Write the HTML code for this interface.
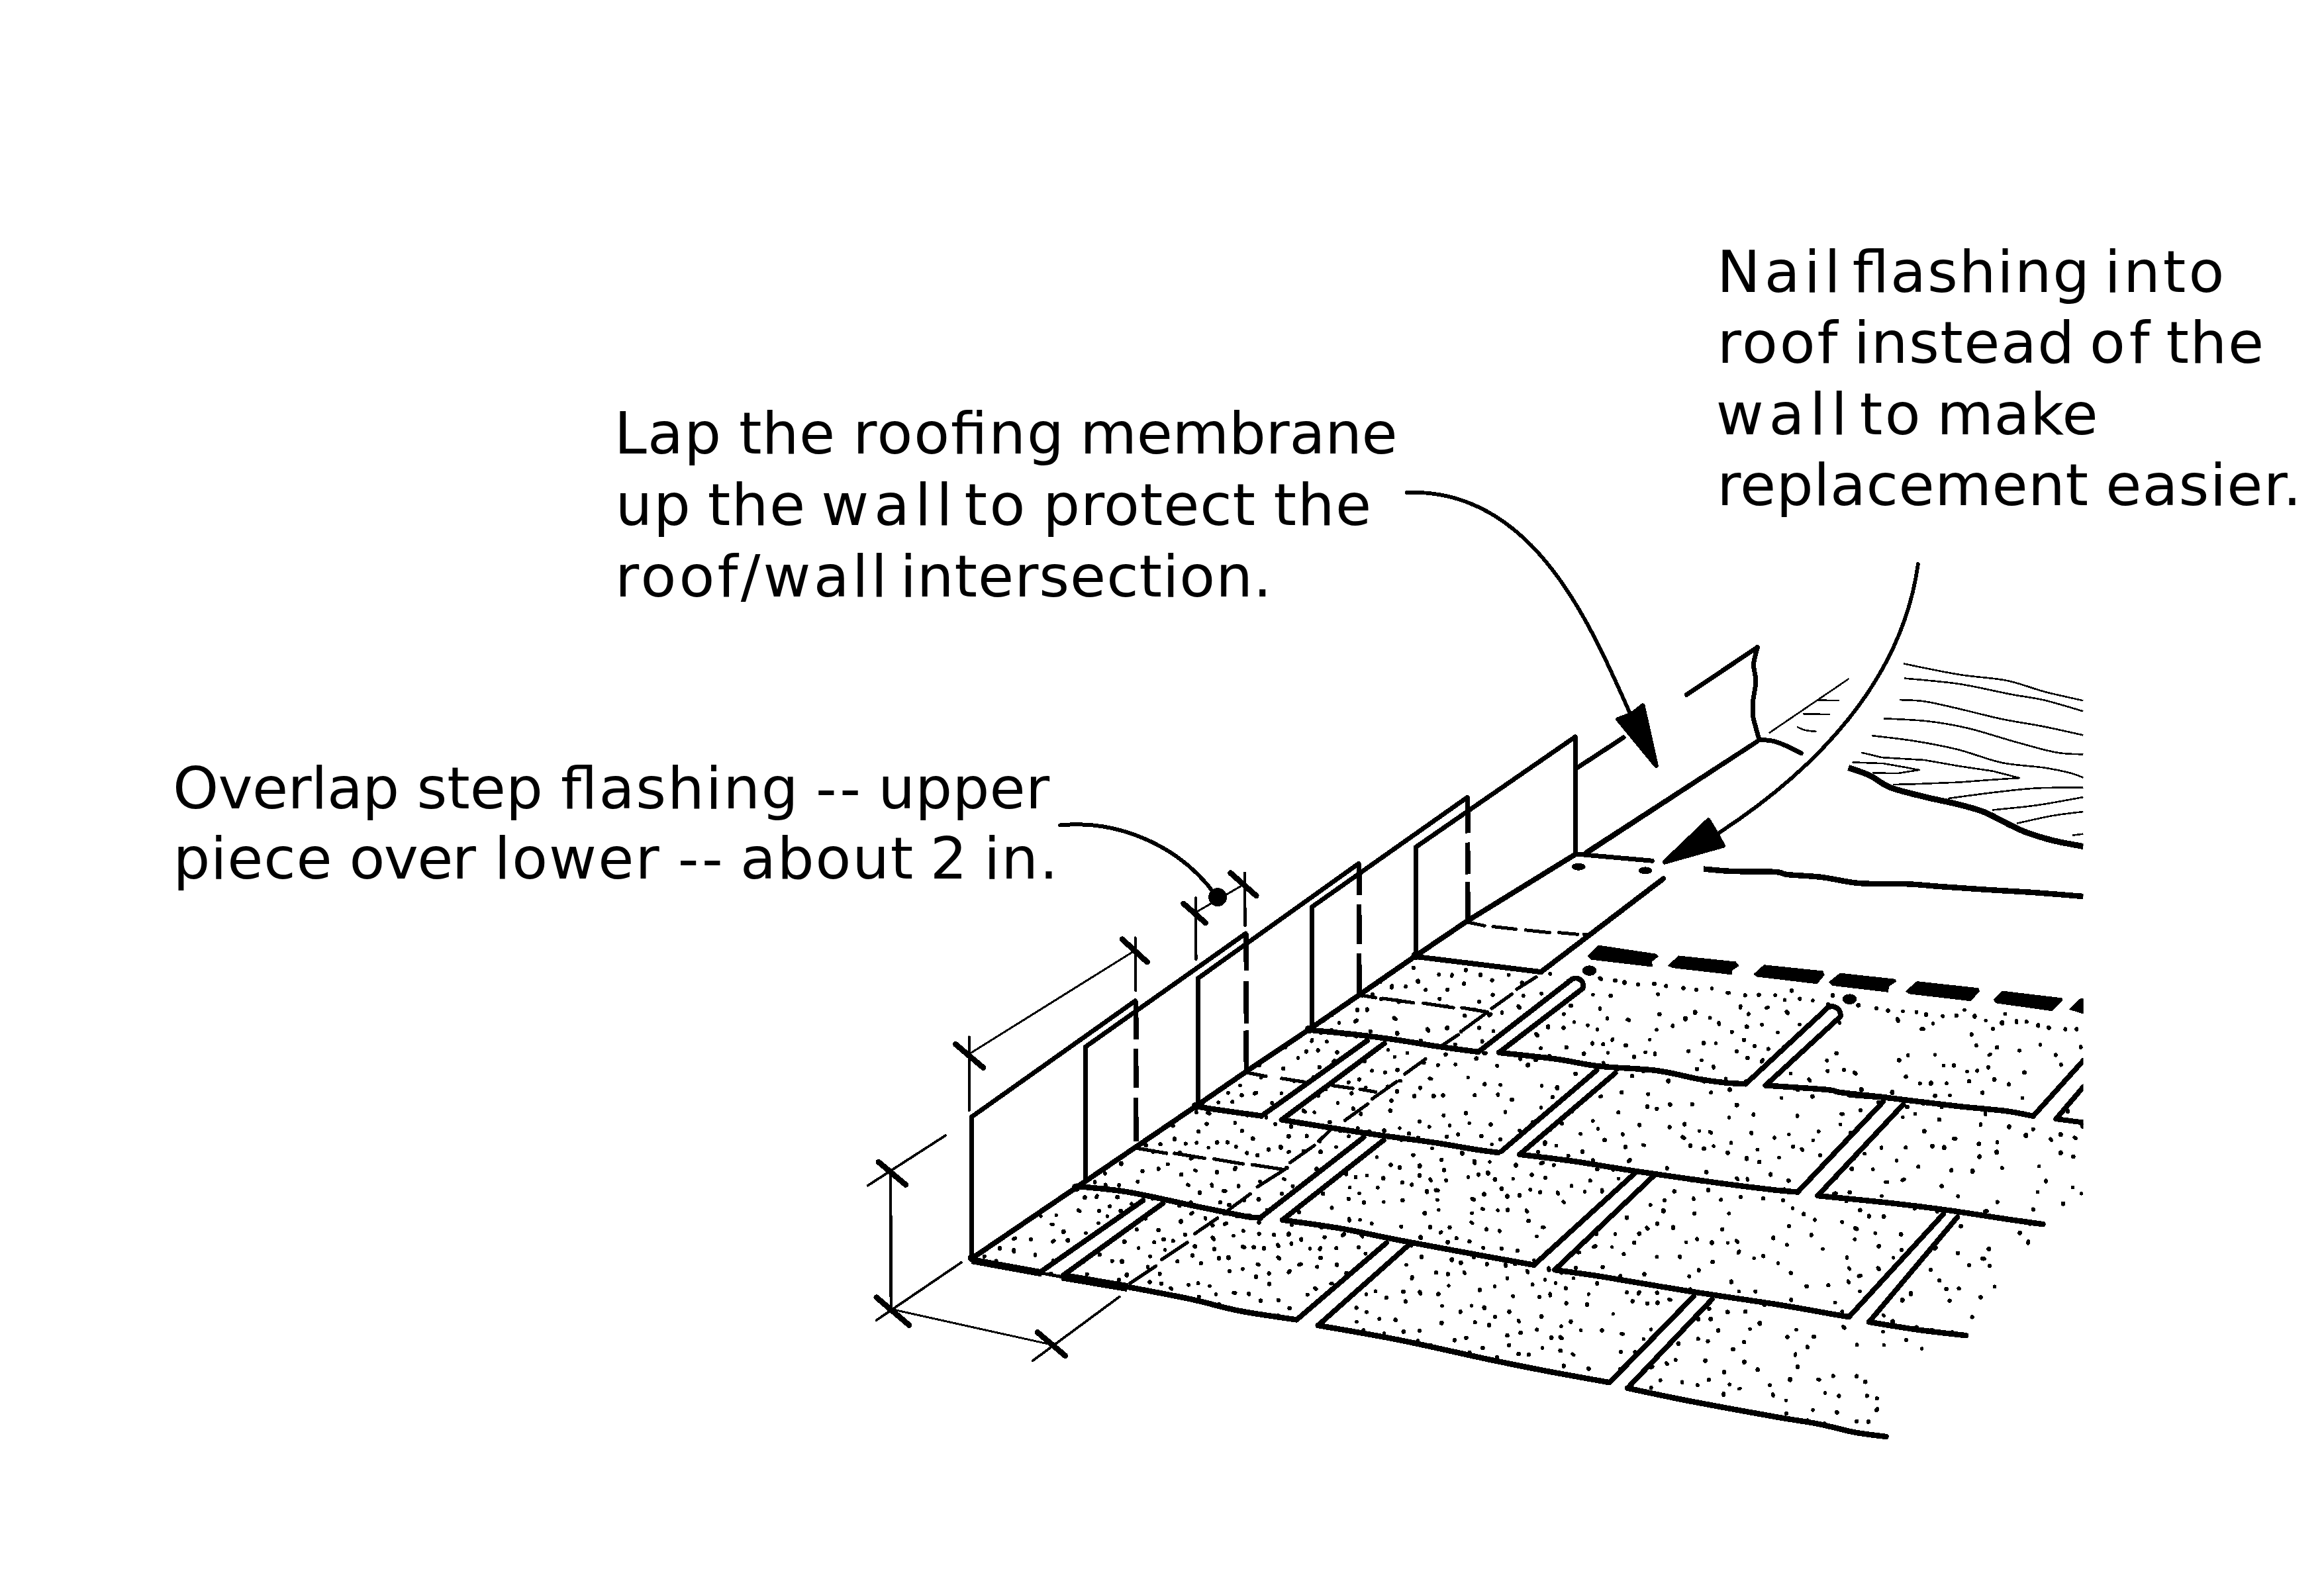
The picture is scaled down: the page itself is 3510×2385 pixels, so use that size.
<!DOCTYPE html>
<html lang="en"><head><meta charset="utf-8"><title>Step flashing detail</title>
<style>
html,body{margin:0;padding:0;background:#fff}
body{width:3510px;height:2385px;overflow:hidden}
svg{display:block}
text{font-family:"DejaVu Sans","Liberation Sans",sans-serif;font-size:88px;fill:#000;white-space:pre}
</style></head><body>
<svg width="3510" height="2385" viewBox="0 0 3510 2385">
<rect width="3510" height="2385" fill="#fff"/>
<defs><clipPath id="cl"><rect x="0" y="0" width="3146.5" height="2385"/></clipPath></defs>
<g clip-path="url(#cl)" shape-rendering="crispEdges">
<path d="M2124.5 743.9 C2312.2 737.2 2398.4 934.1 2461.8 1077.3" fill="none" stroke="#000" stroke-width="5.8" stroke-linecap="round"/>
<polygon points="2443.9,1086.6 2464.6,1078.8 2481.1,1065.9 2501.3,1156.3" fill="#000" stroke="#000" stroke-width="7" stroke-linejoin="round"/>
<path d="M2547.3 1049.4 L2654.5 977.5" fill="none" stroke="#000" stroke-width="7" stroke-linecap="round" stroke-linejoin="round"/>
<path d="M2654.5 977.5 C2653.5 981.8 2649.0 994.8 2648.6 1003.4 C2648.2 1012.0 2652.1 1019.7 2651.9 1029.2 C2651.7 1038.7 2648.2 1051.6 2647.5 1060.2 C2646.8 1068.8 2646.8 1074.4 2647.5 1080.9 C2648.2 1087.4 2650.3 1093.0 2651.9 1099 C2653.5 1105.0 2656.2 1114.1 2657.1 1117.1" fill="none" stroke="#000" stroke-width="7" stroke-linecap="round" stroke-linejoin="round"/>
<path d="M2657.1 1117.1 C2660.8 1117.5 2672.0 1117.9 2679.1 1119.6 C2686.2 1121.3 2692.8 1124.4 2699.7 1127.4 C2706.6 1130.4 2716.9 1136.0 2720.4 1137.7" fill="none" stroke="#000" stroke-width="7" stroke-linecap="round" stroke-linejoin="round"/>
<path d="M2654.5 1119.6 L2400 1286.3" fill="none" stroke="#000" stroke-width="7" stroke-linecap="round" stroke-linejoin="round"/>
<path d="M2382.5 1159.5 L2452 1114" fill="none" stroke="#000" stroke-width="7" stroke-linecap="round" stroke-linejoin="round"/>
<path d="M2672.6 1106.7 L2791.5 1025.8" fill="none" stroke="#000" stroke-width="2.6" stroke-linecap="round" stroke-linejoin="round"/>
<path d="M2746.3 1057.6 L2777.3 1058.1" fill="none" stroke="#000" stroke-width="2.6" stroke-linecap="round" stroke-linejoin="round"/>
<path d="M2724.3 1078.3 L2763 1079.1" fill="none" stroke="#000" stroke-width="2.6" stroke-linecap="round" stroke-linejoin="round"/>
<path d="M2715.2 1098.4 C2716.9 1099.1 2721.1 1101.7 2725.6 1102.8 C2730.1 1103.9 2739.6 1104.6 2742.4 1104.9" fill="none" stroke="#000" stroke-width="2.6" stroke-linecap="round" stroke-linejoin="round"/>
<path d="M2896.9 851.9 C2872.5 1030.1 2740.6 1163.5 2596.4 1257.9" fill="none" stroke="#000" stroke-width="5.8" stroke-linecap="round"/>
<polygon points="2580.1,1239 2592.5,1259.2 2602.3,1277.3 2514.2,1302.1" fill="#000" stroke="#000" stroke-width="7" stroke-linejoin="round"/>
<path d="M2875.2 1002.5 C2889.1 1005.2 2932.5 1014.6 2958.4 1018.8 C2984.3 1023.0 3009.2 1023.6 3030.7 1027.9 C3052.2 1032.2 3068.3 1039.6 3087.6 1044.7 C3106.9 1049.8 3136.7 1056.0 3146.5 1058.3" fill="none" stroke="#000" stroke-width="2.6" stroke-linecap="butt" stroke-linejoin="round"/>
<path d="M2875.7 1024.5 C2889.5 1025.9 2931.7 1029.0 2958.4 1033 C2985.1 1037.0 3014.4 1044.4 3035.9 1048.5 C3057.4 1052.6 3069.2 1053.3 3087.6 1057.6 C3106.0 1061.9 3136.7 1071.6 3146.5 1074.4" fill="none" stroke="#000" stroke-width="2.6" stroke-linecap="butt" stroke-linejoin="round"/>
<path d="M2869.3 1057.1 C2875.5 1057.5 2891.8 1057.2 2906.7 1059.4 C2921.5 1061.6 2939.0 1066.1 2958.4 1070.5 C2977.8 1074.9 3001.5 1081.5 3023 1086 C3044.5 1090.5 3067.0 1093.5 3087.6 1097.6 C3108.2 1101.7 3136.7 1108.3 3146.5 1110.5" fill="none" stroke="#000" stroke-width="2.6" stroke-linecap="butt" stroke-linejoin="round"/>
<path d="M2844.7 1085.2 C2855.9 1085.9 2890.8 1087.0 2911.9 1089.4 C2933.0 1091.8 2950.6 1094.9 2971.3 1099.7 C2992.0 1104.5 3016.5 1112.8 3035.9 1118.3 C3055.3 1123.8 3074.7 1129.3 3087.6 1132.5 C3100.5 1135.7 3103.6 1136.5 3113.4 1137.7 C3123.2 1138.9 3141.0 1139.2 3146.5 1139.5" fill="none" stroke="#000" stroke-width="2.6" stroke-linecap="butt" stroke-linejoin="round"/>
<path d="M2827.1 1111.1 C2838.2 1112.5 2871.9 1116.0 2893.8 1119.6 C2915.7 1123.2 2936.9 1127.1 2958.4 1132.5 C2979.9 1137.9 3001.5 1147.4 3023 1151.9 C3044.5 1156.4 3070.4 1157.0 3087.6 1159.6 C3104.8 1162.2 3116.6 1164.9 3126.4 1167.4 C3136.2 1169.9 3143.2 1173.4 3146.5 1174.6" fill="none" stroke="#000" stroke-width="2.6" stroke-linecap="butt" stroke-linejoin="round"/>
<path d="M2941.6 1206.1 C2953.0 1204.6 2987.9 1199.7 3010.1 1197.1 C3032.3 1194.5 3052.0 1191.9 3074.7 1190.6 C3097.4 1189.3 3134.5 1189.6 3146.5 1189.4" fill="none" stroke="#000" stroke-width="2.6" stroke-linecap="butt" stroke-linejoin="round"/>
<path d="M3008.8 1223.5 C3019.8 1222.3 3051.8 1219.7 3074.7 1216.5 C3097.6 1213.3 3134.5 1206.2 3146.5 1204.1" fill="none" stroke="#000" stroke-width="2.6" stroke-linecap="butt" stroke-linejoin="round"/>
<path d="M3046.3 1243.6 C3055.3 1241.7 3083.8 1234.9 3100.5 1232 C3117.2 1229.1 3138.8 1227.0 3146.5 1226" fill="none" stroke="#000" stroke-width="2.6" stroke-linecap="butt" stroke-linejoin="round"/>
<path d="M3130.2 1261.7 L3146.5 1259.6" fill="none" stroke="#000" stroke-width="2.6" stroke-linecap="butt" stroke-linejoin="round"/>
<path d="M2812.4 1136.9 L2842.1 1144.1 L2906.7 1148 L2958.4 1157.1 L3010.1 1164.8 L3050.1 1175.1 L3010.1 1177.7 L2958.4 1181.6 L2893.8 1184.2 L2860.2 1185" fill="none" stroke="#000" stroke-width="2.6" stroke-linecap="round" stroke-linejoin="round"/>
<path d="M2798.7 1151.4 L2844.7 1153.2 L2880.9 1159.6 L2898.4 1163 L2865.4 1168.2 L2829.2 1167.4" fill="none" stroke="#000" stroke-width="2.6" stroke-linecap="round" stroke-linejoin="round"/>
<path d="M2791.7 1159.6 C2797.1 1161.5 2813.4 1166.3 2824 1171.3 C2834.6 1176.3 2841.2 1184.0 2855 1189.4 C2868.8 1194.8 2889.5 1199.3 2906.7 1203.6 C2923.9 1207.9 2943.3 1211.3 2958.4 1215.2 C2973.5 1219.1 2984.3 1221.6 2997.2 1226.8 C3010.1 1232.0 3025.1 1241.0 3035.9 1246.2 C3046.7 1251.4 3051.0 1253.9 3061.8 1257.8 C3072.6 1261.7 3086.4 1266.0 3100.5 1269.5 C3114.6 1273.0 3138.8 1277.0 3146.5 1278.5" fill="none" stroke="#000" stroke-width="9" stroke-linecap="butt" stroke-linejoin="round"/>
<g><path fill="#000" d="M2436.2 1480.9a3.4 3.4 0 1 0 6.8 0a3.4 3.4 0 1 0 -6.8 0zM2450.1 1484.0a3.5 3.5 0 1 0 6.9 0a3.5 3.5 0 1 0 -6.9 0zM2470.7 1487.0a3.3 3.3 0 1 0 6.6 0a3.3 3.3 0 1 0 -6.6 0zM2495.0 1486.1a3.4 3.4 0 1 0 6.8 0a3.4 3.4 0 1 0 -6.8 0zM2513.1 1489.4a3.2 3.2 0 1 0 6.4 0a3.2 3.2 0 1 0 -6.4 0zM2539.1 1492.6a3.4 3.4 0 1 0 6.8 0a3.4 3.4 0 1 0 -6.8 0zM2559.0 1495.1a3.1 3.1 0 1 0 6.2 0a3.1 3.1 0 1 0 -6.2 0zM2582.5 1493.0a2.8 2.8 0 1 0 5.6 0a2.8 2.8 0 1 0 -5.6 0zM2632.5 1503.4a3.2 3.2 0 1 0 6.4 0a3.2 3.2 0 1 0 -6.4 0zM2653.1 1502.7a3.3 3.3 0 1 0 6.6 0a3.3 3.3 0 1 0 -6.6 0zM2678.4 1503.3a2.9 2.9 0 1 0 5.8 0a2.9 2.9 0 1 0 -5.8 0zM2692.5 1510.4a2.9 2.9 0 1 0 5.9 0a2.9 2.9 0 1 0 -5.9 0zM2715.3 1508.6a3.1 3.1 0 1 0 6.2 0a3.1 3.1 0 1 0 -6.2 0zM2735.2 1511.1a2.8 2.8 0 1 0 5.6 0a2.8 2.8 0 1 0 -5.6 0zM2758.0 1516.7a2.9 2.9 0 1 0 5.8 0a2.9 2.9 0 1 0 -5.8 0zM2831.0 1522.9a3.1 3.1 0 1 0 6.2 0a3.1 3.1 0 1 0 -6.2 0zM2848.3 1526.6a3.3 3.3 0 1 0 6.6 0a3.3 3.3 0 1 0 -6.6 0zM2871.3 1527.7a2.8 2.8 0 1 0 5.7 0a2.8 2.8 0 1 0 -5.7 0zM2891.6 1528.8a2.8 2.8 0 1 0 5.5 0a2.8 2.8 0 1 0 -5.5 0zM2905.6 1532.5a3.4 3.4 0 1 0 6.8 0a3.4 3.4 0 1 0 -6.8 0zM2931.2 1534.9a2.9 2.9 0 1 0 5.8 0a2.9 2.9 0 1 0 -5.8 0zM2951.5 1534.0a3.3 3.3 0 1 0 6.6 0a3.3 3.3 0 1 0 -6.6 0zM2979.0 1535.0a3.3 3.3 0 1 0 6.5 0a3.3 3.3 0 1 0 -6.5 0zM2996.4 1541.3a2.7 2.7 0 1 0 5.5 0a2.7 2.7 0 1 0 -5.5 0zM3020.4 1545.0a3.5 3.5 0 1 0 6.9 0a3.5 3.5 0 1 0 -6.9 0zM3057.7 1543.4a3.1 3.1 0 1 0 6.2 0a3.1 3.1 0 1 0 -6.2 0zM3075.1 1548.9a3.2 3.2 0 1 0 6.3 0a3.2 3.2 0 1 0 -6.3 0zM3091.0 1552.4a3.3 3.3 0 1 0 6.7 0a3.3 3.3 0 1 0 -6.7 0zM3116.5 1554.6a2.8 2.8 0 1 0 5.5 0a2.8 2.8 0 1 0 -5.5 0zM3133.3 1554.5a3.1 3.1 0 1 0 6.1 0a3.1 3.1 0 1 0 -6.1 0zM1483.5 1897.7a3.2 3.2 0 1 0 6.4 0a3.2 3.2 0 1 0 -6.4 0zM1506.9 1885.7a3.2 3.2 0 1 0 6.3 0a3.2 3.2 0 1 0 -6.3 0zM1592.5 1835.4a2.7 2.7 0 1 0 5.5 0a2.7 2.7 0 1 0 -5.5 0zM1550.4 1843.0a3.0 3.0 0 1 0 5.9 0a3.0 3.0 0 1 0 -5.9 0zM1609.1 1873.5a3.5 3.5 0 1 0 7.0 0a3.5 3.5 0 1 0 -7.0 0zM1622.8 1928.3a3.1 3.1 0 1 0 6.3 0a3.1 3.1 0 1 0 -6.3 0zM1587.6 1904.3a3.0 3.0 0 1 0 5.9 0a3.0 3.0 0 1 0 -5.9 0zM1603.1 1860.4a3.3 3.3 0 1 0 6.5 0a3.3 3.3 0 1 0 -6.5 0zM1585.0 1923.3a2.8 2.8 0 1 0 5.6 0a2.8 2.8 0 1 0 -5.6 0zM1560.6 1895.5a2.8 2.8 0 1 0 5.5 0a2.8 2.8 0 1 0 -5.5 0zM1569.4 1837.1a2.7 2.7 0 1 0 5.4 0a2.7 2.7 0 1 0 -5.4 0zM1554.2 1872.0a3.0 3.0 0 1 0 6.0 0a3.0 3.0 0 1 0 -6.0 0zM1684.3 1808.1a3.5 3.5 0 1 0 7.0 0a3.5 3.5 0 1 0 -7.0 0zM1656.0 1847.5a3.0 3.0 0 1 0 6.0 0a3.0 3.0 0 1 0 -6.0 0zM1669.6 1837.1a2.7 2.7 0 1 0 5.4 0a2.7 2.7 0 1 0 -5.4 0zM1657.6 1895.1a3.2 3.2 0 1 0 6.4 0a3.2 3.2 0 1 0 -6.4 0zM1694.8 1875.6a3.5 3.5 0 1 0 7.0 0a3.5 3.5 0 1 0 -7.0 0zM1689.3 1829.0a3.3 3.3 0 1 0 6.6 0a3.3 3.3 0 1 0 -6.6 0zM1657.2 1828.9a2.9 2.9 0 1 0 5.7 0a2.9 2.9 0 1 0 -5.7 0zM1637.3 1862.4a2.7 2.7 0 1 0 5.4 0a2.7 2.7 0 1 0 -5.4 0zM1638.6 1924.7a3.1 3.1 0 1 0 6.2 0a3.1 3.1 0 1 0 -6.2 0zM1687.3 1790.3a2.9 2.9 0 1 0 5.7 0a2.9 2.9 0 1 0 -5.7 0zM1690.0 1757.6a3.4 3.4 0 1 0 6.7 0a3.4 3.4 0 1 0 -6.7 0zM1698.7 1943.0a3.2 3.2 0 1 0 6.5 0a3.2 3.2 0 1 0 -6.5 0zM1691.2 1905.4a3.4 3.4 0 1 0 6.7 0a3.4 3.4 0 1 0 -6.7 0zM1686.6 1933.1a3.2 3.2 0 1 0 6.4 0a3.2 3.2 0 1 0 -6.4 0zM1651.0 1785.5a2.8 2.8 0 1 0 5.5 0a2.8 2.8 0 1 0 -5.5 0zM1676.5 1904.7a3.1 3.1 0 1 0 6.3 0a3.1 3.1 0 1 0 -6.3 0zM1635.0 1808.7a3.4 3.4 0 1 0 6.9 0a3.4 3.4 0 1 0 -6.9 0zM1673.0 1822.3a3.1 3.1 0 1 0 6.2 0a3.1 3.1 0 1 0 -6.2 0zM1666.2 1772.5a2.8 2.8 0 1 0 5.5 0a2.8 2.8 0 1 0 -5.5 0zM1698.5 1925.8a3.3 3.3 0 1 0 6.5 0a3.3 3.3 0 1 0 -6.5 0zM1768.5 1874.3a3.1 3.1 0 1 0 6.2 0a3.1 3.1 0 1 0 -6.2 0zM1730.7 1913.8a2.8 2.8 0 1 0 5.5 0a2.8 2.8 0 1 0 -5.5 0zM1778.7 1959.3a2.8 2.8 0 1 0 5.6 0a2.8 2.8 0 1 0 -5.6 0zM1722.4 1769.0a3.1 3.1 0 1 0 6.3 0a3.1 3.1 0 1 0 -6.3 0zM1734.0 1897.6a3.0 3.0 0 1 0 6.1 0a3.0 3.0 0 1 0 -6.1 0zM1729.6 1950.0a3.1 3.1 0 1 0 6.2 0a3.1 3.1 0 1 0 -6.2 0zM1760.8 1758.5a3.0 3.0 0 1 0 6.0 0a3.0 3.0 0 1 0 -6.0 0zM1740.2 1876.4a3.0 3.0 0 1 0 6.1 0a3.0 3.0 0 1 0 -6.1 0zM1706.3 1818.5a2.8 2.8 0 1 0 5.5 0a2.8 2.8 0 1 0 -5.5 0zM1714.1 1857.2a2.8 2.8 0 1 0 5.5 0a2.8 2.8 0 1 0 -5.5 0zM1715.3 1784.9a3.1 3.1 0 1 0 6.2 0a3.1 3.1 0 1 0 -6.2 0zM1757.0 1887.9a2.7 2.7 0 1 0 5.5 0a2.7 2.7 0 1 0 -5.5 0zM1733.3 1936.4a3.3 3.3 0 1 0 6.6 0a3.3 3.3 0 1 0 -6.6 0zM1749.4 1728.3a3.2 3.2 0 1 0 6.4 0a3.2 3.2 0 1 0 -6.4 0zM1770.6 1720.4a3.4 3.4 0 1 0 6.7 0a3.4 3.4 0 1 0 -6.7 0zM1754.2 1872.0a3.4 3.4 0 1 0 6.9 0a3.4 3.4 0 1 0 -6.9 0zM1775.1 1905.3a3.1 3.1 0 1 0 6.3 0a3.1 3.1 0 1 0 -6.3 0zM1780.1 1844.9a3.5 3.5 0 1 0 6.9 0a3.5 3.5 0 1 0 -6.9 0zM1714.5 1945.9a3.1 3.1 0 1 0 6.3 0a3.1 3.1 0 1 0 -6.3 0zM1738.0 1739.2a3.2 3.2 0 1 0 6.3 0a3.2 3.2 0 1 0 -6.3 0zM1748.6 1924.1a3.0 3.0 0 1 0 5.9 0a3.0 3.0 0 1 0 -5.9 0zM1737.6 1810.6a3.0 3.0 0 1 0 6.0 0a3.0 3.0 0 1 0 -6.0 0zM1778.1 1820.9a3.3 3.3 0 1 0 6.7 0a3.3 3.3 0 1 0 -6.7 0zM1746.4 1858.1a3.4 3.4 0 1 0 6.8 0a3.4 3.4 0 1 0 -6.8 0zM1746.9 1765.5a2.9 2.9 0 1 0 5.7 0a2.9 2.9 0 1 0 -5.7 0zM1778.5 1741.9a3.4 3.4 0 1 0 6.7 0a3.4 3.4 0 1 0 -6.7 0zM1716.9 1885.1a2.7 2.7 0 1 0 5.5 0a2.7 2.7 0 1 0 -5.5 0zM1750.8 1938.7a3.2 3.2 0 1 0 6.5 0a3.2 3.2 0 1 0 -6.5 0zM1768.3 1700.4a3.2 3.2 0 1 0 6.4 0a3.2 3.2 0 1 0 -6.4 0zM1727.5 1729.7a3.2 3.2 0 1 0 6.3 0a3.2 3.2 0 1 0 -6.3 0zM1780.7 1774.1a3.4 3.4 0 1 0 6.8 0a3.4 3.4 0 1 0 -6.8 0zM1806.5 1938.3a3.0 3.0 0 1 0 6.1 0a3.0 3.0 0 1 0 -6.1 0zM1837.8 1900.7a3.3 3.3 0 1 0 6.5 0a3.3 3.3 0 1 0 -6.5 0zM1850.7 1725.5a3.2 3.2 0 1 0 6.4 0a3.2 3.2 0 1 0 -6.4 0zM1808.7 1801.6a3.4 3.4 0 1 0 6.8 0a3.4 3.4 0 1 0 -6.8 0zM1828.2 1850.9a3.2 3.2 0 1 0 6.4 0a3.2 3.2 0 1 0 -6.4 0zM1822.5 1733.5a2.8 2.8 0 1 0 5.6 0a2.8 2.8 0 1 0 -5.6 0zM1819.3 1697.7a3.2 3.2 0 1 0 6.4 0a3.2 3.2 0 1 0 -6.4 0zM1834.6 1770.4a3.4 3.4 0 1 0 6.9 0a3.4 3.4 0 1 0 -6.9 0zM1806.8 1709.2a3.3 3.3 0 1 0 6.6 0a3.3 3.3 0 1 0 -6.6 0zM1837.4 1665.3a2.9 2.9 0 1 0 5.8 0a2.9 2.9 0 1 0 -5.8 0zM1807.6 1958.7a3.1 3.1 0 1 0 6.2 0a3.1 3.1 0 1 0 -6.2 0zM1801.3 1882.6a3.4 3.4 0 1 0 6.8 0a3.4 3.4 0 1 0 -6.8 0zM1792.3 1940.8a2.9 2.9 0 1 0 5.8 0a2.9 2.9 0 1 0 -5.8 0zM1853.2 1820.1a3.3 3.3 0 1 0 6.7 0a3.3 3.3 0 1 0 -6.7 0zM1864.0 1732.1a2.8 2.8 0 1 0 5.5 0a2.8 2.8 0 1 0 -5.5 0zM1797.7 1896.3a3.3 3.3 0 1 0 6.6 0a3.3 3.3 0 1 0 -6.6 0zM1852.1 1650.9a2.9 2.9 0 1 0 5.8 0a2.9 2.9 0 1 0 -5.8 0zM1862.6 1696.0a2.8 2.8 0 1 0 5.5 0a2.8 2.8 0 1 0 -5.5 0zM1830.6 1886.7a3.4 3.4 0 1 0 6.8 0a3.4 3.4 0 1 0 -6.8 0zM1795.6 1816.4a3.1 3.1 0 1 0 6.3 0a3.1 3.1 0 1 0 -6.3 0zM1824.1 1942.4a2.8 2.8 0 1 0 5.6 0a2.8 2.8 0 1 0 -5.6 0zM1833.7 1955.0a2.7 2.7 0 1 0 5.5 0a2.7 2.7 0 1 0 -5.5 0zM1846.2 1833.2a3.1 3.1 0 1 0 6.2 0a3.1 3.1 0 1 0 -6.2 0zM1837.9 1969.7a3.1 3.1 0 1 0 6.3 0a3.1 3.1 0 1 0 -6.3 0zM1786.6 1864.8a3.2 3.2 0 1 0 6.4 0a3.2 3.2 0 1 0 -6.4 0zM1839.7 1816.3a3.2 3.2 0 1 0 6.4 0a3.2 3.2 0 1 0 -6.4 0zM1853.9 1920.1a3.1 3.1 0 1 0 6.2 0a3.1 3.1 0 1 0 -6.2 0zM1860.3 1866.5a2.9 2.9 0 1 0 5.8 0a2.9 2.9 0 1 0 -5.8 0zM1852.1 1899.6a3.4 3.4 0 1 0 6.7 0a3.4 3.4 0 1 0 -6.7 0zM1811.9 1666.8a3.5 3.5 0 1 0 6.9 0a3.5 3.5 0 1 0 -6.9 0zM1858.1 1664.3a3.2 3.2 0 1 0 6.4 0a3.2 3.2 0 1 0 -6.4 0zM1804.3 1726.1a3.0 3.0 0 1 0 6.0 0a3.0 3.0 0 1 0 -6.0 0zM1810.6 1908.1a3.3 3.3 0 1 0 6.6 0a3.3 3.3 0 1 0 -6.6 0zM1804.1 1680.2a2.8 2.8 0 1 0 5.5 0a2.8 2.8 0 1 0 -5.5 0zM1834.7 1725.7a3.4 3.4 0 1 0 6.9 0a3.4 3.4 0 1 0 -6.9 0zM1787.6 1727.5a3.1 3.1 0 1 0 6.2 0a3.1 3.1 0 1 0 -6.2 0zM1910.6 1827.6a2.7 2.7 0 1 0 5.4 0a2.7 2.7 0 1 0 -5.4 0zM1888.7 1719.9a3.5 3.5 0 1 0 7.0 0a3.5 3.5 0 1 0 -7.0 0zM1909.8 1687.5a2.8 2.8 0 1 0 5.5 0a2.8 2.8 0 1 0 -5.5 0zM1875.5 1812.8a3.4 3.4 0 1 0 6.8 0a3.4 3.4 0 1 0 -6.8 0zM1893.8 1928.5a3.2 3.2 0 1 0 6.3 0a3.2 3.2 0 1 0 -6.3 0zM1923.2 1697.9a3.0 3.0 0 1 0 6.1 0a3.0 3.0 0 1 0 -6.1 0zM1874.0 1916.7a2.9 2.9 0 1 0 5.9 0a2.9 2.9 0 1 0 -5.9 0zM1927.3 1987.1a3.1 3.1 0 1 0 6.3 0a3.1 3.1 0 1 0 -6.3 0zM1942.9 1716.4a3.5 3.5 0 1 0 7.0 0a3.5 3.5 0 1 0 -7.0 0zM1921.1 1865.2a3.1 3.1 0 1 0 6.3 0a3.1 3.1 0 1 0 -6.3 0zM1864.7 1836.9a3.3 3.3 0 1 0 6.6 0a3.3 3.3 0 1 0 -6.6 0zM1918.3 1666.0a3.0 3.0 0 1 0 6.1 0a3.0 3.0 0 1 0 -6.1 0zM1913.6 1939.3a3.3 3.3 0 1 0 6.6 0a3.3 3.3 0 1 0 -6.6 0zM1932.8 1803.1a3.0 3.0 0 1 0 6.1 0a3.0 3.0 0 1 0 -6.1 0zM1944.4 1976.0a3.2 3.2 0 1 0 6.4 0a3.2 3.2 0 1 0 -6.4 0zM1927.6 1963.9a3.2 3.2 0 1 0 6.4 0a3.2 3.2 0 1 0 -6.4 0zM1905.6 1885.4a3.4 3.4 0 1 0 6.8 0a3.4 3.4 0 1 0 -6.8 0zM1895.8 1745.0a3.3 3.3 0 1 0 6.7 0a3.3 3.3 0 1 0 -6.7 0zM1898.2 1846.4a3.3 3.3 0 1 0 6.6 0a3.3 3.3 0 1 0 -6.6 0zM1900.5 1964.8a3.4 3.4 0 1 0 6.8 0a3.4 3.4 0 1 0 -6.8 0zM1883.5 1835.7a2.9 2.9 0 1 0 5.9 0a2.9 2.9 0 1 0 -5.9 0zM1872.6 1708.2a3.3 3.3 0 1 0 6.6 0a3.3 3.3 0 1 0 -6.6 0zM1872.1 1654.3a3.3 3.3 0 1 0 6.6 0a3.3 3.3 0 1 0 -6.6 0zM1874.8 1859.2a3.0 3.0 0 1 0 6.0 0a3.0 3.0 0 1 0 -6.0 0zM1900.2 1784.4a2.9 2.9 0 1 0 5.8 0a2.9 2.9 0 1 0 -5.8 0zM1898.3 1608.7a3.3 3.3 0 1 0 6.7 0a3.3 3.3 0 1 0 -6.7 0zM1912.7 1736.3a3.4 3.4 0 1 0 6.8 0a3.4 3.4 0 1 0 -6.8 0zM1868.0 1791.5a2.8 2.8 0 1 0 5.5 0a2.8 2.8 0 1 0 -5.5 0zM1897.5 1811.5a3.5 3.5 0 1 0 7.0 0a3.5 3.5 0 1 0 -7.0 0zM1938.2 1581.8a3.0 3.0 0 1 0 6.0 0a3.0 3.0 0 1 0 -6.0 0zM1913.4 1923.5a3.3 3.3 0 1 0 6.6 0a3.3 3.3 0 1 0 -6.6 0zM1939.9 1763.9a3.4 3.4 0 1 0 6.8 0a3.4 3.4 0 1 0 -6.8 0zM1880.3 1741.6a2.9 2.9 0 1 0 5.7 0a2.9 2.9 0 1 0 -5.7 0zM1883.2 1954.3a3.1 3.1 0 1 0 6.1 0a3.1 3.1 0 1 0 -6.1 0zM1870.1 1639.3a2.8 2.8 0 1 0 5.6 0a2.8 2.8 0 1 0 -5.6 0zM1930.8 1732.7a3.5 3.5 0 1 0 6.9 0a3.5 3.5 0 1 0 -6.9 0zM1942.9 1864.1a3.5 3.5 0 1 0 6.9 0a3.5 3.5 0 1 0 -6.9 0zM1901.6 1627.6a3.0 3.0 0 1 0 6.0 0a3.0 3.0 0 1 0 -6.0 0zM1890.2 1883.8a3.4 3.4 0 1 0 6.8 0a3.4 3.4 0 1 0 -6.8 0zM1898.4 1863.6a3.1 3.1 0 1 0 6.3 0a3.1 3.1 0 1 0 -6.3 0zM1934.9 1614.0a3.3 3.3 0 1 0 6.6 0a3.3 3.3 0 1 0 -6.6 0zM1932.5 1651.3a2.9 2.9 0 1 0 5.8 0a2.9 2.9 0 1 0 -5.8 0zM1975.7 1885.9a2.9 2.9 0 1 0 5.8 0a2.9 2.9 0 1 0 -5.8 0zM2015.2 1885.4a3.1 3.1 0 1 0 6.2 0a3.1 3.1 0 1 0 -6.2 0zM2004.9 1695.1a3.3 3.3 0 1 0 6.7 0a3.3 3.3 0 1 0 -6.7 0zM1995.6 1541.5a3.2 3.2 0 1 0 6.5 0a3.2 3.2 0 1 0 -6.5 0zM2015.1 1732.7a2.8 2.8 0 1 0 5.6 0a2.8 2.8 0 1 0 -5.6 0zM1971.7 1955.6a3.0 3.0 0 1 0 6.0 0a3.0 3.0 0 1 0 -6.0 0zM2017.5 1666.0a2.8 2.8 0 1 0 5.6 0a2.8 2.8 0 1 0 -5.6 0zM1990.7 1700.4a2.8 2.8 0 1 0 5.5 0a2.8 2.8 0 1 0 -5.5 0zM1947.5 1878.5a3.0 3.0 0 1 0 5.9 0a3.0 3.0 0 1 0 -5.9 0zM1992.0 1560.2a3.1 3.1 0 1 0 6.2 0a3.1 3.1 0 1 0 -6.2 0zM2007.7 1556.6a3.3 3.3 0 1 0 6.5 0a3.3 3.3 0 1 0 -6.5 0zM1988.3 1654.7a3.1 3.1 0 1 0 6.1 0a3.1 3.1 0 1 0 -6.1 0zM1986.2 1913.5a3.0 3.0 0 1 0 6.1 0a3.0 3.0 0 1 0 -6.1 0zM2000.9 1573.4a3.0 3.0 0 1 0 6.0 0a3.0 3.0 0 1 0 -6.0 0zM1991.0 1739.7a3.5 3.5 0 1 0 7.0 0a3.5 3.5 0 1 0 -7.0 0zM2008.4 1824.4a3.1 3.1 0 1 0 6.2 0a3.1 3.1 0 1 0 -6.2 0zM1958.7 1830.8a3.2 3.2 0 1 0 6.3 0a3.2 3.2 0 1 0 -6.3 0zM1946.6 1701.5a3.4 3.4 0 1 0 6.8 0a3.4 3.4 0 1 0 -6.8 0zM1985.2 1766.0a3.3 3.3 0 1 0 6.5 0a3.3 3.3 0 1 0 -6.5 0zM1999.7 1644.9a2.9 2.9 0 1 0 5.7 0a2.9 2.9 0 1 0 -5.7 0zM1957.7 1598.1a2.9 2.9 0 1 0 5.8 0a2.9 2.9 0 1 0 -5.8 0zM1987.4 1586.5a3.2 3.2 0 1 0 6.5 0a3.2 3.2 0 1 0 -6.5 0zM1969.5 1588.4a3.3 3.3 0 1 0 6.6 0a3.3 3.3 0 1 0 -6.6 0zM1990.7 1724.0a2.8 2.8 0 1 0 5.5 0a2.8 2.8 0 1 0 -5.5 0zM2012.0 1854.2a3.5 3.5 0 1 0 6.9 0a3.5 3.5 0 1 0 -6.9 0zM2004.5 2004.7a2.8 2.8 0 1 0 5.5 0a2.8 2.8 0 1 0 -5.5 0zM1994.8 1803.0a3.3 3.3 0 1 0 6.6 0a3.3 3.3 0 1 0 -6.6 0zM2021.6 1708.2a3.0 3.0 0 1 0 6.0 0a3.0 3.0 0 1 0 -6.0 0zM1980.7 1626.9a3.1 3.1 0 1 0 6.3 0a3.1 3.1 0 1 0 -6.3 0zM1948.1 1850.4a3.0 3.0 0 1 0 6.0 0a3.0 3.0 0 1 0 -6.0 0zM1962.1 1872.2a3.2 3.2 0 1 0 6.3 0a3.2 3.2 0 1 0 -6.3 0zM1989.5 1612.0a3.3 3.3 0 1 0 6.7 0a3.3 3.3 0 1 0 -6.7 0zM2015.8 1910.5a3.3 3.3 0 1 0 6.6 0a3.3 3.3 0 1 0 -6.6 0zM1952.5 1570.3a2.8 2.8 0 1 0 5.6 0a2.8 2.8 0 1 0 -5.6 0zM1970.6 1715.9a3.0 3.0 0 1 0 5.9 0a3.0 3.0 0 1 0 -5.9 0zM2008.3 1533.4a3.0 3.0 0 1 0 6.1 0a3.0 3.0 0 1 0 -6.1 0zM1982.3 1680.1a2.8 2.8 0 1 0 5.6 0a2.8 2.8 0 1 0 -5.6 0zM1951.8 1633.2a2.8 2.8 0 1 0 5.7 0a2.8 2.8 0 1 0 -5.7 0zM1997.4 1868.8a3.2 3.2 0 1 0 6.4 0a3.2 3.2 0 1 0 -6.4 0zM1949.4 1791.6a3.1 3.1 0 1 0 6.2 0a3.1 3.1 0 1 0 -6.2 0zM1991.2 1900.0a3.3 3.3 0 1 0 6.7 0a3.3 3.3 0 1 0 -6.7 0zM1992.6 1853.3a3.4 3.4 0 1 0 6.9 0a3.4 3.4 0 1 0 -6.9 0zM2019.8 1545.0a2.8 2.8 0 1 0 5.5 0a2.8 2.8 0 1 0 -5.5 0zM2016.2 1589.5a3.4 3.4 0 1 0 6.8 0a3.4 3.4 0 1 0 -6.8 0zM1965.6 1738.9a3.3 3.3 0 1 0 6.7 0a3.3 3.3 0 1 0 -6.7 0zM2098.3 1662.5a3.2 3.2 0 1 0 6.4 0a3.2 3.2 0 1 0 -6.4 0zM2038.6 1857.0a3.0 3.0 0 1 0 6.0 0a3.0 3.0 0 1 0 -6.0 0zM2055.2 1504.1a2.7 2.7 0 1 0 5.5 0a2.7 2.7 0 1 0 -5.5 0zM2060.9 1954.9a2.8 2.8 0 1 0 5.6 0a2.8 2.8 0 1 0 -5.6 0zM2030.2 1923.3a3.5 3.5 0 1 0 7.0 0a3.5 3.5 0 1 0 -7.0 0zM2069.2 1617.3a2.9 2.9 0 1 0 5.8 0a2.9 2.9 0 1 0 -5.8 0zM2057.4 1601.9a3.5 3.5 0 1 0 6.9 0a3.5 3.5 0 1 0 -6.9 0zM2061.7 1775.5a2.8 2.8 0 1 0 5.6 0a2.8 2.8 0 1 0 -5.6 0zM2065.2 1708.9a2.9 2.9 0 1 0 5.8 0a2.9 2.9 0 1 0 -5.8 0zM2056.1 2009.4a3.2 3.2 0 1 0 6.4 0a3.2 3.2 0 1 0 -6.4 0zM2044.6 1778.0a2.9 2.9 0 1 0 5.7 0a2.9 2.9 0 1 0 -5.7 0zM2056.6 1816.3a3.3 3.3 0 1 0 6.6 0a3.3 3.3 0 1 0 -6.6 0zM2048.0 1704.0a2.8 2.8 0 1 0 5.7 0a2.8 2.8 0 1 0 -5.7 0zM2087.2 1707.8a3.4 3.4 0 1 0 6.9 0a3.4 3.4 0 1 0 -6.9 0zM2061.7 1525.1a3.2 3.2 0 1 0 6.3 0a3.2 3.2 0 1 0 -6.3 0zM2051.4 1842.8a2.7 2.7 0 1 0 5.4 0a2.7 2.7 0 1 0 -5.4 0zM2050.2 1802.6a2.8 2.8 0 1 0 5.6 0a2.8 2.8 0 1 0 -5.6 0zM2070.0 1502.3a3.2 3.2 0 1 0 6.5 0a3.2 3.2 0 1 0 -6.5 0zM2077.9 1793.8a2.9 2.9 0 1 0 5.8 0a2.9 2.9 0 1 0 -5.8 0zM2082.8 1509.0a3.0 3.0 0 1 0 6.0 0a3.0 3.0 0 1 0 -6.0 0zM2045.8 1565.7a2.8 2.8 0 1 0 5.7 0a2.8 2.8 0 1 0 -5.7 0zM2089.0 1619.9a2.9 2.9 0 1 0 5.9 0a2.9 2.9 0 1 0 -5.9 0zM2049.9 1630.5a3.1 3.1 0 1 0 6.2 0a3.1 3.1 0 1 0 -6.2 0zM2052.5 1682.6a2.9 2.9 0 1 0 5.7 0a2.9 2.9 0 1 0 -5.7 0zM2096.4 1677.7a3.4 3.4 0 1 0 6.8 0a3.4 3.4 0 1 0 -6.8 0zM2045.4 1975.4a3.2 3.2 0 1 0 6.4 0a3.2 3.2 0 1 0 -6.4 0zM2092.9 1641.5a3.1 3.1 0 1 0 6.2 0a3.1 3.1 0 1 0 -6.2 0zM2090.5 1960.1a3.2 3.2 0 1 0 6.5 0a3.2 3.2 0 1 0 -6.5 0zM2093.7 1585.8a2.7 2.7 0 1 0 5.5 0a2.7 2.7 0 1 0 -5.5 0zM2048.8 1884.0a3.0 3.0 0 1 0 6.1 0a3.0 3.0 0 1 0 -6.1 0zM2080.4 1992.1a3.0 3.0 0 1 0 6.0 0a3.0 3.0 0 1 0 -6.0 0zM2059.4 1893.6a3.0 3.0 0 1 0 6.0 0a3.0 3.0 0 1 0 -6.0 0zM2030.3 1563.6a2.9 2.9 0 1 0 5.9 0a2.9 2.9 0 1 0 -5.9 0zM2040.5 1674.6a3.3 3.3 0 1 0 6.6 0a3.3 3.3 0 1 0 -6.6 0zM2087.1 1815.4a2.7 2.7 0 1 0 5.5 0a2.7 2.7 0 1 0 -5.5 0zM2046.6 1525.6a3.4 3.4 0 1 0 6.8 0a3.4 3.4 0 1 0 -6.8 0zM2060.9 1981.6a3.1 3.1 0 1 0 6.2 0a3.1 3.1 0 1 0 -6.2 0zM2097.1 1759.5a3.4 3.4 0 1 0 6.9 0a3.4 3.4 0 1 0 -6.9 0zM2034.2 1716.3a2.9 2.9 0 1 0 5.8 0a2.9 2.9 0 1 0 -5.8 0zM2103.6 1596.3a2.8 2.8 0 1 0 5.6 0a2.8 2.8 0 1 0 -5.6 0zM2076.6 1747.8a2.8 2.8 0 1 0 5.6 0a2.8 2.8 0 1 0 -5.6 0zM2038.1 1651.4a3.2 3.2 0 1 0 6.5 0a3.2 3.2 0 1 0 -6.5 0zM2082.1 1482.6a2.9 2.9 0 1 0 5.7 0a2.9 2.9 0 1 0 -5.7 0zM2104.5 1993.6a3.2 3.2 0 1 0 6.3 0a3.2 3.2 0 1 0 -6.3 0zM2046.1 1996.7a2.8 2.8 0 1 0 5.6 0a2.8 2.8 0 1 0 -5.6 0zM2068.7 1848.1a3.0 3.0 0 1 0 6.0 0a3.0 3.0 0 1 0 -6.0 0zM2074.7 1950.4a2.9 2.9 0 1 0 5.8 0a2.9 2.9 0 1 0 -5.8 0zM2030.0 1772.9a3.2 3.2 0 1 0 6.3 0a3.2 3.2 0 1 0 -6.3 0zM2033.6 1810.9a3.3 3.3 0 1 0 6.6 0a3.3 3.3 0 1 0 -6.6 0zM2044.8 1582.8a3.2 3.2 0 1 0 6.5 0a3.2 3.2 0 1 0 -6.5 0zM2035.8 1793.7a2.8 2.8 0 1 0 5.6 0a2.8 2.8 0 1 0 -5.6 0zM2033.8 1634.8a3.0 3.0 0 1 0 6.0 0a3.0 3.0 0 1 0 -6.0 0zM2066.8 1557.7a3.1 3.1 0 1 0 6.2 0a3.1 3.1 0 1 0 -6.2 0zM2085.6 1779.8a3.5 3.5 0 1 0 7.0 0a3.5 3.5 0 1 0 -7.0 0zM2059.8 1642.7a2.9 2.9 0 1 0 5.8 0a2.9 2.9 0 1 0 -5.8 0zM2138.3 1482.3a3.4 3.4 0 1 0 6.7 0a3.4 3.4 0 1 0 -6.7 0zM2140.8 1761.2a3.4 3.4 0 1 0 6.7 0a3.4 3.4 0 1 0 -6.7 0zM2160.1 1734.5a3.0 3.0 0 1 0 6.0 0a3.0 3.0 0 1 0 -6.0 0zM2169.0 1954.7a3.4 3.4 0 1 0 6.8 0a3.4 3.4 0 1 0 -6.8 0zM2141.0 1775.7a3.2 3.2 0 1 0 6.3 0a3.2 3.2 0 1 0 -6.3 0zM2148.3 1832.5a3.5 3.5 0 1 0 7.0 0a3.5 3.5 0 1 0 -7.0 0zM2173.8 1751.8a3.2 3.2 0 1 0 6.5 0a3.2 3.2 0 1 0 -6.5 0zM2128.9 1881.7a2.8 2.8 0 1 0 5.7 0a2.8 2.8 0 1 0 -5.7 0zM2122.8 1590.6a2.8 2.8 0 1 0 5.7 0a2.8 2.8 0 1 0 -5.7 0zM2182.0 1519.7a3.0 3.0 0 1 0 6.0 0a3.0 3.0 0 1 0 -6.0 0zM2142.6 1571.8a3.3 3.3 0 1 0 6.6 0a3.3 3.3 0 1 0 -6.6 0zM2113.3 1852.8a3.1 3.1 0 1 0 6.2 0a3.1 3.1 0 1 0 -6.2 0zM2115.0 1812.9a3.3 3.3 0 1 0 6.6 0a3.3 3.3 0 1 0 -6.6 0zM2121.0 1910.4a2.9 2.9 0 1 0 5.8 0a2.9 2.9 0 1 0 -5.8 0zM2142.2 1869.1a3.5 3.5 0 1 0 6.9 0a3.5 3.5 0 1 0 -6.9 0zM2110.9 1763.4a3.2 3.2 0 1 0 6.3 0a3.2 3.2 0 1 0 -6.3 0zM2185.2 1942.0a2.7 2.7 0 1 0 5.4 0a2.7 2.7 0 1 0 -5.4 0zM2113.1 1721.1a3.5 3.5 0 1 0 6.9 0a3.5 3.5 0 1 0 -6.9 0zM2183.2 1876.3a3.4 3.4 0 1 0 6.9 0a3.4 3.4 0 1 0 -6.9 0zM2114.5 1786.2a3.2 3.2 0 1 0 6.4 0a3.2 3.2 0 1 0 -6.4 0zM2142.2 1643.2a2.9 2.9 0 1 0 5.7 0a2.9 2.9 0 1 0 -5.7 0zM2177.6 1767.4a3.3 3.3 0 1 0 6.6 0a3.3 3.3 0 1 0 -6.6 0zM2181.9 1716.8a3.2 3.2 0 1 0 6.5 0a3.2 3.2 0 1 0 -6.5 0zM2116.4 2011.4a3.4 3.4 0 1 0 6.8 0a3.4 3.4 0 1 0 -6.8 0zM2141.0 1694.0a3.0 3.0 0 1 0 5.9 0a3.0 3.0 0 1 0 -5.9 0zM2173.7 1998.2a3.5 3.5 0 1 0 7.0 0a3.5 3.5 0 1 0 -7.0 0zM2170.5 1472.1a2.8 2.8 0 1 0 5.5 0a2.8 2.8 0 1 0 -5.5 0zM2111.3 1704.0a2.7 2.7 0 1 0 5.4 0a2.7 2.7 0 1 0 -5.4 0zM2168.8 1608.8a3.0 3.0 0 1 0 6.0 0a3.0 3.0 0 1 0 -6.0 0zM2183.0 1494.9a3.2 3.2 0 1 0 6.5 0a3.2 3.2 0 1 0 -6.5 0zM2183.7 1924.5a3.2 3.2 0 1 0 6.5 0a3.2 3.2 0 1 0 -6.5 0zM2106.8 1648.5a3.1 3.1 0 1 0 6.1 0a3.1 3.1 0 1 0 -6.1 0zM2155.8 1702.0a2.9 2.9 0 1 0 5.9 0a2.9 2.9 0 1 0 -5.9 0zM2167.9 1812.5a2.9 2.9 0 1 0 5.8 0a2.9 2.9 0 1 0 -5.8 0zM2147.2 1605.1a3.2 3.2 0 1 0 6.4 0a3.2 3.2 0 1 0 -6.4 0zM2177.4 1684.9a3.0 3.0 0 1 0 6.1 0a3.0 3.0 0 1 0 -6.1 0zM2176.1 1654.5a3.3 3.3 0 1 0 6.6 0a3.3 3.3 0 1 0 -6.6 0zM2181.2 1783.0a2.9 2.9 0 1 0 5.8 0a2.9 2.9 0 1 0 -5.8 0zM2120.3 1490.2a2.8 2.8 0 1 0 5.5 0a2.8 2.8 0 1 0 -5.5 0zM2131.7 1461.8a3.2 3.2 0 1 0 6.4 0a3.2 3.2 0 1 0 -6.4 0zM2161.7 1655.5a3.5 3.5 0 1 0 7.0 0a3.5 3.5 0 1 0 -7.0 0zM2150.2 1495.2a3.0 3.0 0 1 0 6.0 0a3.0 3.0 0 1 0 -6.0 0zM2118.2 1571.0a2.7 2.7 0 1 0 5.5 0a2.7 2.7 0 1 0 -5.5 0zM2170.2 1827.6a2.7 2.7 0 1 0 5.4 0a2.7 2.7 0 1 0 -5.4 0zM2171.2 1508.7a3.1 3.1 0 1 0 6.2 0a3.1 3.1 0 1 0 -6.2 0zM2131.3 1744.7a3.2 3.2 0 1 0 6.4 0a3.2 3.2 0 1 0 -6.4 0zM2132.9 1655.6a3.3 3.3 0 1 0 6.6 0a3.3 3.3 0 1 0 -6.6 0zM2144.1 1898.5a3.1 3.1 0 1 0 6.1 0a3.1 3.1 0 1 0 -6.1 0zM2180.1 1592.7a3.3 3.3 0 1 0 6.6 0a3.3 3.3 0 1 0 -6.6 0zM2138.0 2025.5a3.2 3.2 0 1 0 6.5 0a3.2 3.2 0 1 0 -6.5 0zM2151.9 1799.9a3.3 3.3 0 1 0 6.5 0a3.3 3.3 0 1 0 -6.5 0zM2182.3 1552.7a3.4 3.4 0 1 0 6.7 0a3.4 3.4 0 1 0 -6.7 0zM2129.4 1789.3a2.9 2.9 0 1 0 5.7 0a2.9 2.9 0 1 0 -5.7 0zM2116.2 1951.0a3.3 3.3 0 1 0 6.7 0a3.3 3.3 0 1 0 -6.7 0zM2157.7 2032.4a3.5 3.5 0 1 0 7.0 0a3.5 3.5 0 1 0 -7.0 0zM2163.5 1882.6a3.2 3.2 0 1 0 6.3 0a3.2 3.2 0 1 0 -6.3 0zM2119.5 1965.7a3.3 3.3 0 1 0 6.6 0a3.3 3.3 0 1 0 -6.6 0zM2175.3 1972.4a2.8 2.8 0 1 0 5.6 0a2.8 2.8 0 1 0 -5.6 0zM2138.4 1718.9a3.4 3.4 0 1 0 6.9 0a3.4 3.4 0 1 0 -6.9 0zM2156.7 1853.6a3.3 3.3 0 1 0 6.7 0a3.3 3.3 0 1 0 -6.7 0zM2124.7 1712.2a3.3 3.3 0 1 0 6.6 0a3.3 3.3 0 1 0 -6.6 0zM2107.3 1616.1a3.4 3.4 0 1 0 6.9 0a3.4 3.4 0 1 0 -6.9 0zM2140.8 2010.1a3.1 3.1 0 1 0 6.2 0a3.1 3.1 0 1 0 -6.2 0zM2106.8 1560.8a3.4 3.4 0 1 0 6.7 0a3.4 3.4 0 1 0 -6.7 0zM2165.8 1922.3a3.2 3.2 0 1 0 6.4 0a3.2 3.2 0 1 0 -6.4 0zM2245.6 2001.5a3.3 3.3 0 1 0 6.7 0a3.3 3.3 0 1 0 -6.7 0zM2234.2 1716.1a3.2 3.2 0 1 0 6.4 0a3.2 3.2 0 1 0 -6.4 0zM2186.6 1700.1a2.8 2.8 0 1 0 5.6 0a2.8 2.8 0 1 0 -5.6 0zM2196.5 1870.3a3.1 3.1 0 1 0 6.2 0a3.1 3.1 0 1 0 -6.2 0zM2248.3 1698.5a3.3 3.3 0 1 0 6.7 0a3.3 3.3 0 1 0 -6.7 0zM2264.7 1885.8a3.1 3.1 0 1 0 6.3 0a3.1 3.1 0 1 0 -6.3 0zM2238.5 1975.3a3.3 3.3 0 1 0 6.5 0a3.3 3.3 0 1 0 -6.5 0zM2247.2 1755.0a2.7 2.7 0 1 0 5.5 0a2.7 2.7 0 1 0 -5.5 0zM2224.3 1654.3a3.0 3.0 0 1 0 6.0 0a3.0 3.0 0 1 0 -6.0 0zM2242.9 1909.4a3.0 3.0 0 1 0 5.9 0a3.0 3.0 0 1 0 -5.9 0zM2216.2 1875.2a3.2 3.2 0 1 0 6.5 0a3.2 3.2 0 1 0 -6.5 0zM2216.4 1696.5a2.8 2.8 0 1 0 5.7 0a2.8 2.8 0 1 0 -5.7 0zM2222.8 1525.0a3.4 3.4 0 1 0 6.9 0a3.4 3.4 0 1 0 -6.9 0zM2203.8 1558.2a2.9 2.9 0 1 0 5.8 0a2.9 2.9 0 1 0 -5.8 0zM2254.5 1781.5a3.4 3.4 0 1 0 6.9 0a3.4 3.4 0 1 0 -6.9 0zM2259.3 1828.1a2.8 2.8 0 1 0 5.6 0a2.8 2.8 0 1 0 -5.6 0zM2224.7 1997.4a3.1 3.1 0 1 0 6.3 0a3.1 3.1 0 1 0 -6.3 0zM2226.4 1598.8a3.4 3.4 0 1 0 6.9 0a3.4 3.4 0 1 0 -6.9 0zM2199.0 1713.5a3.1 3.1 0 1 0 6.3 0a3.1 3.1 0 1 0 -6.3 0zM2209.0 1534.2a3.3 3.3 0 1 0 6.6 0a3.3 3.3 0 1 0 -6.6 0zM2243.9 1771.9a3.5 3.5 0 1 0 6.9 0a3.5 3.5 0 1 0 -6.9 0zM2263.3 1638.7a2.9 2.9 0 1 0 5.8 0a2.9 2.9 0 1 0 -5.8 0zM2202.9 1981.4a3.0 3.0 0 1 0 5.9 0a3.0 3.0 0 1 0 -5.9 0zM2216.6 2042.5a3.0 3.0 0 1 0 6.0 0a3.0 3.0 0 1 0 -6.0 0zM2242.2 1856.7a2.9 2.9 0 1 0 5.7 0a2.9 2.9 0 1 0 -5.7 0zM2239.0 1637.6a3.3 3.3 0 1 0 6.6 0a3.3 3.3 0 1 0 -6.6 0zM2214.5 1778.1a3.0 3.0 0 1 0 6.0 0a3.0 3.0 0 1 0 -6.0 0zM2210.5 1681.3a3.3 3.3 0 1 0 6.7 0a3.3 3.3 0 1 0 -6.7 0zM2235.6 1573.0a3.0 3.0 0 1 0 5.9 0a3.0 3.0 0 1 0 -5.9 0zM2254.7 1943.2a2.8 2.8 0 1 0 5.7 0a2.8 2.8 0 1 0 -5.7 0zM2262.1 1859.4a2.8 2.8 0 1 0 5.5 0a2.8 2.8 0 1 0 -5.5 0zM2208.3 1485.8a3.0 3.0 0 1 0 5.9 0a3.0 3.0 0 1 0 -5.9 0zM2252.6 1557.3a2.9 2.9 0 1 0 5.8 0a2.9 2.9 0 1 0 -5.8 0zM2250.4 1728.6a2.8 2.8 0 1 0 5.6 0a2.8 2.8 0 1 0 -5.6 0zM2236.1 2036.1a3.3 3.3 0 1 0 6.6 0a3.3 3.3 0 1 0 -6.6 0zM2230.8 1513.2a3.2 3.2 0 1 0 6.4 0a3.2 3.2 0 1 0 -6.4 0zM2254.7 1989.0a3.2 3.2 0 1 0 6.4 0a3.2 3.2 0 1 0 -6.4 0zM2211.1 1587.3a3.1 3.1 0 1 0 6.2 0a3.1 3.1 0 1 0 -6.2 0zM2203.2 1907.4a3.3 3.3 0 1 0 6.5 0a3.3 3.3 0 1 0 -6.5 0zM2225.2 1734.5a3.0 3.0 0 1 0 6.0 0a3.0 3.0 0 1 0 -6.0 0zM2211.2 2020.8a3.2 3.2 0 1 0 6.5 0a3.2 3.2 0 1 0 -6.5 0zM2231.8 1948.2a3.2 3.2 0 1 0 6.3 0a3.2 3.2 0 1 0 -6.3 0zM2210.9 1465.2a3.1 3.1 0 1 0 6.1 0a3.1 3.1 0 1 0 -6.1 0zM2195.3 1607.9a2.8 2.8 0 1 0 5.7 0a2.8 2.8 0 1 0 -5.7 0zM2194.8 1577.6a3.0 3.0 0 1 0 6.0 0a3.0 3.0 0 1 0 -6.0 0zM2263.2 1720.9a2.8 2.8 0 1 0 5.5 0a2.8 2.8 0 1 0 -5.5 0zM2219.7 1972.2a2.8 2.8 0 1 0 5.6 0a2.8 2.8 0 1 0 -5.6 0zM2259.5 1653.4a2.9 2.9 0 1 0 5.7 0a2.9 2.9 0 1 0 -5.7 0zM2251.4 1502.7a3.2 3.2 0 1 0 6.4 0a3.2 3.2 0 1 0 -6.4 0zM2230.9 1552.5a3.1 3.1 0 1 0 6.3 0a3.1 3.1 0 1 0 -6.3 0zM2258.3 2049.8a3.0 3.0 0 1 0 6.0 0a3.0 3.0 0 1 0 -6.0 0zM2258.2 1609.8a3.0 3.0 0 1 0 6.0 0a3.0 3.0 0 1 0 -6.0 0zM2230.0 1774.1a3.1 3.1 0 1 0 6.1 0a3.1 3.1 0 1 0 -6.1 0zM2237.2 1884.8a3.0 3.0 0 1 0 6.0 0a3.0 3.0 0 1 0 -6.0 0zM2204.8 1741.7a3.5 3.5 0 1 0 6.9 0a3.5 3.5 0 1 0 -6.9 0zM2220.3 1832.4a2.9 2.9 0 1 0 5.8 0a2.9 2.9 0 1 0 -5.8 0zM2232.7 1472.5a3.4 3.4 0 1 0 6.8 0a3.4 3.4 0 1 0 -6.8 0zM2250.4 1480.7a3.2 3.2 0 1 0 6.4 0a3.2 3.2 0 1 0 -6.4 0zM2186.3 1854.0a3.2 3.2 0 1 0 6.4 0a3.2 3.2 0 1 0 -6.4 0zM2238.3 1803.7a3.3 3.3 0 1 0 6.5 0a3.3 3.3 0 1 0 -6.5 0zM2214.5 1627.6a2.7 2.7 0 1 0 5.5 0a2.7 2.7 0 1 0 -5.5 0zM2264.5 1795.5a3.4 3.4 0 1 0 6.8 0a3.4 3.4 0 1 0 -6.8 0zM2223.0 1898.9a3.1 3.1 0 1 0 6.2 0a3.1 3.1 0 1 0 -6.2 0zM2194.0 2024.3a3.0 3.0 0 1 0 5.9 0a3.0 3.0 0 1 0 -5.9 0zM2189.4 1902.7a3.4 3.4 0 1 0 6.7 0a3.4 3.4 0 1 0 -6.7 0zM2324.6 1988.4a3.5 3.5 0 1 0 7.0 0a3.5 3.5 0 1 0 -7.0 0zM2336.7 1594.9a3.1 3.1 0 1 0 6.3 0a3.1 3.1 0 1 0 -6.3 0zM2310.1 1774.4a3.4 3.4 0 1 0 6.8 0a3.4 3.4 0 1 0 -6.8 0zM2325.2 1500.7a2.9 2.9 0 1 0 5.9 0a2.9 2.9 0 1 0 -5.9 0zM2339.8 2020.5a3.4 3.4 0 1 0 6.7 0a3.4 3.4 0 1 0 -6.7 0zM2343.8 1759.9a3.0 3.0 0 1 0 6.0 0a3.0 3.0 0 1 0 -6.0 0zM2330.7 1933.0a2.8 2.8 0 1 0 5.6 0a2.8 2.8 0 1 0 -5.6 0zM2326.7 2035.9a2.8 2.8 0 1 0 5.6 0a2.8 2.8 0 1 0 -5.6 0zM2293.2 1599.2a3.0 3.0 0 1 0 5.9 0a3.0 3.0 0 1 0 -5.9 0zM2297.7 1504.0a3.0 3.0 0 1 0 6.0 0a3.0 3.0 0 1 0 -6.0 0zM2276.0 2031.8a3.2 3.2 0 1 0 6.4 0a3.2 3.2 0 1 0 -6.4 0zM2318.2 2008.5a3.1 3.1 0 1 0 6.2 0a3.1 3.1 0 1 0 -6.2 0zM2331.0 1779.1a3.0 3.0 0 1 0 6.0 0a3.0 3.0 0 1 0 -6.0 0zM2286.0 1759.9a3.4 3.4 0 1 0 6.7 0a3.4 3.4 0 1 0 -6.7 0zM2288.7 1889.2a3.2 3.2 0 1 0 6.4 0a3.2 3.2 0 1 0 -6.4 0zM2266.5 1586.4a3.2 3.2 0 1 0 6.4 0a3.2 3.2 0 1 0 -6.4 0zM2325.6 1640.1a2.8 2.8 0 1 0 5.7 0a2.8 2.8 0 1 0 -5.7 0zM2295.4 1484.4a3.3 3.3 0 1 0 6.6 0a3.3 3.3 0 1 0 -6.6 0zM2311.5 1940.4a3.0 3.0 0 1 0 6.1 0a3.0 3.0 0 1 0 -6.1 0zM2316.2 1601.0a3.4 3.4 0 1 0 6.8 0a3.4 3.4 0 1 0 -6.8 0zM2276.3 1981.4a3.2 3.2 0 1 0 6.3 0a3.2 3.2 0 1 0 -6.3 0zM2273.3 2017.1a3.2 3.2 0 1 0 6.5 0a3.2 3.2 0 1 0 -6.5 0zM2305.6 2046.3a3.2 3.2 0 1 0 6.4 0a3.2 3.2 0 1 0 -6.4 0zM2273.6 1930.8a2.9 2.9 0 1 0 5.9 0a2.9 2.9 0 1 0 -5.9 0zM2341.6 1657.1a3.2 3.2 0 1 0 6.5 0a3.2 3.2 0 1 0 -6.5 0zM2334.8 1551.0a3.3 3.3 0 1 0 6.5 0a3.3 3.3 0 1 0 -6.5 0zM2324.1 1583.3a3.0 3.0 0 1 0 6.0 0a3.0 3.0 0 1 0 -6.0 0zM2273.7 1827.7a3.4 3.4 0 1 0 6.8 0a3.4 3.4 0 1 0 -6.8 0zM2293.3 2013.1a3.3 3.3 0 1 0 6.7 0a3.3 3.3 0 1 0 -6.7 0zM2339.0 1706.8a2.8 2.8 0 1 0 5.6 0a2.8 2.8 0 1 0 -5.6 0zM2321.8 1958.8a3.2 3.2 0 1 0 6.4 0a3.2 3.2 0 1 0 -6.4 0zM2311.7 1695.4a3.1 3.1 0 1 0 6.1 0a3.1 3.1 0 1 0 -6.1 0zM2291.7 1805.5a3.4 3.4 0 1 0 6.7 0a3.4 3.4 0 1 0 -6.7 0zM2332.5 1891.6a2.8 2.8 0 1 0 5.6 0a2.8 2.8 0 1 0 -5.6 0zM2338.3 1471.0a2.9 2.9 0 1 0 5.9 0a2.9 2.9 0 1 0 -5.9 0zM2282.3 1957.8a3.0 3.0 0 1 0 6.0 0a3.0 3.0 0 1 0 -6.0 0zM2285.0 1908.5a3.4 3.4 0 1 0 6.7 0a3.4 3.4 0 1 0 -6.7 0zM2308.4 1796.9a2.9 2.9 0 1 0 5.8 0a2.9 2.9 0 1 0 -5.8 0zM2322.9 1800.7a3.2 3.2 0 1 0 6.5 0a3.2 3.2 0 1 0 -6.5 0zM2305.3 1844.2a3.3 3.3 0 1 0 6.6 0a3.3 3.3 0 1 0 -6.6 0zM2292.3 1707.8a2.9 2.9 0 1 0 5.9 0a2.9 2.9 0 1 0 -5.9 0zM2290.3 2045.2a3.3 3.3 0 1 0 6.6 0a3.3 3.3 0 1 0 -6.6 0zM2275.6 1472.6a3.0 3.0 0 1 0 6.0 0a3.0 3.0 0 1 0 -6.0 0zM2318.0 1867.7a2.8 2.8 0 1 0 5.7 0a2.8 2.8 0 1 0 -5.7 0zM2320.0 1740.1a3.0 3.0 0 1 0 6.1 0a3.0 3.0 0 1 0 -6.1 0zM2314.1 1903.4a2.7 2.7 0 1 0 5.5 0a2.7 2.7 0 1 0 -5.5 0zM2273.1 1806.9a3.4 3.4 0 1 0 6.7 0a3.4 3.4 0 1 0 -6.7 0zM2324.6 1673.1a2.9 2.9 0 1 0 5.8 0a2.9 2.9 0 1 0 -5.8 0zM2282.5 1780.3a2.7 2.7 0 1 0 5.5 0a2.7 2.7 0 1 0 -5.5 0zM2270.7 1679.8a2.9 2.9 0 1 0 5.7 0a2.9 2.9 0 1 0 -5.7 0zM2304.3 1608.7a3.4 3.4 0 1 0 6.7 0a3.4 3.4 0 1 0 -6.7 0zM2280.1 1661.0a3.4 3.4 0 1 0 6.8 0a3.4 3.4 0 1 0 -6.8 0zM2359.1 1531.9a2.9 2.9 0 1 0 5.8 0a2.9 2.9 0 1 0 -5.8 0zM2377.0 1915.1a3.0 3.0 0 1 0 5.9 0a3.0 3.0 0 1 0 -5.9 0zM2370.6 1791.2a2.8 2.8 0 1 0 5.5 0a2.8 2.8 0 1 0 -5.5 0zM2396.5 1954.9a2.7 2.7 0 1 0 5.4 0a2.7 2.7 0 1 0 -5.4 0zM2402.8 1752.9a3.1 3.1 0 1 0 6.1 0a3.1 3.1 0 1 0 -6.1 0zM2358.1 1552.6a3.4 3.4 0 1 0 6.8 0a3.4 3.4 0 1 0 -6.8 0zM2390.7 1800.2a2.8 2.8 0 1 0 5.7 0a2.8 2.8 0 1 0 -5.7 0zM2410.9 1704.9a2.8 2.8 0 1 0 5.6 0a2.8 2.8 0 1 0 -5.6 0zM2396.0 2067.4a3.4 3.4 0 1 0 6.8 0a3.4 3.4 0 1 0 -6.8 0zM2348.5 1643.2a3.5 3.5 0 1 0 6.9 0a3.5 3.5 0 1 0 -6.9 0zM2386.7 1739.6a3.3 3.3 0 1 0 6.5 0a3.3 3.3 0 1 0 -6.5 0zM2409.2 1938.5a3.1 3.1 0 1 0 6.1 0a3.1 3.1 0 1 0 -6.1 0zM2417.4 1913.9a3.2 3.2 0 1 0 6.4 0a3.2 3.2 0 1 0 -6.4 0zM2347.7 1730.6a2.8 2.8 0 1 0 5.7 0a2.8 2.8 0 1 0 -5.7 0zM2361.5 1945.8a3.3 3.3 0 1 0 6.7 0a3.3 3.3 0 1 0 -6.7 0zM2416.1 2009.5a3.4 3.4 0 1 0 6.8 0a3.4 3.4 0 1 0 -6.8 0zM2355.3 1922.6a2.9 2.9 0 1 0 5.9 0a2.9 2.9 0 1 0 -5.9 0zM2358.7 2063.2a3.2 3.2 0 1 0 6.3 0a3.2 3.2 0 1 0 -6.3 0zM2403.3 1502.3a2.7 2.7 0 1 0 5.4 0a2.7 2.7 0 1 0 -5.4 0zM2362.4 1968.5a3.2 3.2 0 1 0 6.5 0a3.2 3.2 0 1 0 -6.5 0zM2424.6 1538.2a2.9 2.9 0 1 0 5.7 0a2.9 2.9 0 1 0 -5.7 0zM2346.6 1938.1a2.9 2.9 0 1 0 5.8 0a2.9 2.9 0 1 0 -5.8 0zM2355.2 2003.1a2.8 2.8 0 1 0 5.6 0a2.8 2.8 0 1 0 -5.6 0zM2403.0 1693.1a2.8 2.8 0 1 0 5.6 0a2.8 2.8 0 1 0 -5.6 0zM2418.8 1605.8a2.9 2.9 0 1 0 5.7 0a2.9 2.9 0 1 0 -5.7 0zM2374.9 1543.9a2.7 2.7 0 1 0 5.4 0a2.7 2.7 0 1 0 -5.4 0zM2384.3 1712.7a2.9 2.9 0 1 0 5.8 0a2.9 2.9 0 1 0 -5.8 0zM2355.6 1696.8a3.2 3.2 0 1 0 6.4 0a3.2 3.2 0 1 0 -6.4 0zM2393.6 1970.5a3.4 3.4 0 1 0 6.7 0a3.4 3.4 0 1 0 -6.7 0zM2395.2 1548.9a2.8 2.8 0 1 0 5.6 0a2.8 2.8 0 1 0 -5.6 0zM2398.6 1783.4a3.1 3.1 0 1 0 6.2 0a3.1 3.1 0 1 0 -6.2 0zM2401.9 1576.0a3.1 3.1 0 1 0 6.1 0a3.1 3.1 0 1 0 -6.1 0zM2376.3 1622.0a3.4 3.4 0 1 0 6.8 0a3.4 3.4 0 1 0 -6.8 0zM2384.7 2009.3a2.8 2.8 0 1 0 5.7 0a2.8 2.8 0 1 0 -5.7 0zM2353.4 2040.1a3.4 3.4 0 1 0 6.9 0a3.4 3.4 0 1 0 -6.9 0zM2409.9 1555.1a2.8 2.8 0 1 0 5.6 0a2.8 2.8 0 1 0 -5.6 0zM2419.8 1721.9a3.5 3.5 0 1 0 7.0 0a3.5 3.5 0 1 0 -7.0 0zM2368.9 1519.0a3.4 3.4 0 1 0 6.9 0a3.4 3.4 0 1 0 -6.9 0zM2365.6 1745.8a3.0 3.0 0 1 0 6.1 0a3.0 3.0 0 1 0 -6.1 0zM2388.9 1591.6a3.3 3.3 0 1 0 6.7 0a3.3 3.3 0 1 0 -6.7 0zM2409.0 1765.9a3.3 3.3 0 1 0 6.6 0a3.3 3.3 0 1 0 -6.6 0zM2369.4 1996.2a3.1 3.1 0 1 0 6.1 0a3.1 3.1 0 1 0 -6.1 0zM2362.5 1582.1a3.3 3.3 0 1 0 6.7 0a3.3 3.3 0 1 0 -6.7 0zM2373.8 1930.6a2.7 2.7 0 1 0 5.4 0a2.7 2.7 0 1 0 -5.4 0zM2365.7 1481.6a3.2 3.2 0 1 0 6.4 0a3.2 3.2 0 1 0 -6.4 0zM2413.7 1523.7a2.9 2.9 0 1 0 5.7 0a2.9 2.9 0 1 0 -5.7 0zM2418.3 1577.3a3.0 3.0 0 1 0 6.0 0a3.0 3.0 0 1 0 -6.0 0zM2407.5 1863.2a3.5 3.5 0 1 0 6.9 0a3.5 3.5 0 1 0 -6.9 0zM2472.4 1863.3a3.4 3.4 0 1 0 6.9 0a3.4 3.4 0 1 0 -6.9 0zM2433.1 1766.2a3.2 3.2 0 1 0 6.3 0a3.2 3.2 0 1 0 -6.3 0zM2462.4 1965.4a3.3 3.3 0 1 0 6.6 0a3.3 3.3 0 1 0 -6.6 0zM2502.9 1532.0a3.4 3.4 0 1 0 6.8 0a3.4 3.4 0 1 0 -6.8 0zM2490.8 2096.2a2.9 2.9 0 1 0 5.7 0a2.9 2.9 0 1 0 -5.7 0zM2448.1 1713.4a2.8 2.8 0 1 0 5.5 0a2.8 2.8 0 1 0 -5.5 0zM2490.8 2008.2a2.8 2.8 0 1 0 5.7 0a2.8 2.8 0 1 0 -5.7 0zM2465.1 1877.0a3.2 3.2 0 1 0 6.4 0a3.2 3.2 0 1 0 -6.4 0zM2486.2 1652.6a3.0 3.0 0 1 0 6.1 0a3.0 3.0 0 1 0 -6.1 0zM2429.3 1504.0a3.3 3.3 0 1 0 6.6 0a3.3 3.3 0 1 0 -6.6 0zM2464.7 1596.4a3.3 3.3 0 1 0 6.6 0a3.3 3.3 0 1 0 -6.6 0zM2472.9 1699.4a3.2 3.2 0 1 0 6.5 0a3.2 3.2 0 1 0 -6.5 0zM2432.0 1883.7a2.7 2.7 0 1 0 5.4 0a2.7 2.7 0 1 0 -5.4 0zM2452.1 1579.0a3.4 3.4 0 1 0 6.8 0a3.4 3.4 0 1 0 -6.8 0zM2497.2 1772.3a3.0 3.0 0 1 0 6.0 0a3.0 3.0 0 1 0 -6.0 0zM2441.3 1680.3a3.0 3.0 0 1 0 6.0 0a3.0 3.0 0 1 0 -6.0 0zM2489.7 1820.0a2.9 2.9 0 1 0 5.9 0a2.9 2.9 0 1 0 -5.9 0zM2500.2 1967.7a3.3 3.3 0 1 0 6.5 0a3.3 3.3 0 1 0 -6.5 0zM2451.8 1732.2a3.2 3.2 0 1 0 6.3 0a3.2 3.2 0 1 0 -6.3 0zM2425.5 1590.2a2.8 2.8 0 1 0 5.6 0a2.8 2.8 0 1 0 -5.6 0zM2436.7 1863.9a2.9 2.9 0 1 0 5.8 0a2.9 2.9 0 1 0 -5.8 0zM2453.5 1839.1a3.5 3.5 0 1 0 7.0 0a3.5 3.5 0 1 0 -7.0 0zM2484.6 1671.4a3.4 3.4 0 1 0 6.8 0a3.4 3.4 0 1 0 -6.8 0zM2480.3 1924.6a3.2 3.2 0 1 0 6.3 0a3.2 3.2 0 1 0 -6.3 0zM2484.8 1968.8a3.3 3.3 0 1 0 6.6 0a3.3 3.3 0 1 0 -6.6 0zM2499.2 1674.8a3.2 3.2 0 1 0 6.4 0a3.2 3.2 0 1 0 -6.4 0zM2499.4 1898.4a3.0 3.0 0 1 0 6.0 0a3.0 3.0 0 1 0 -6.0 0zM2501.1 1501.7a3.0 3.0 0 1 0 6.0 0a3.0 3.0 0 1 0 -6.0 0zM2499.4 1952.7a3.3 3.3 0 1 0 6.7 0a3.3 3.3 0 1 0 -6.7 0zM2444.7 2042.0a3.2 3.2 0 1 0 6.5 0a3.2 3.2 0 1 0 -6.5 0zM2499.3 1555.3a2.8 2.8 0 1 0 5.7 0a2.8 2.8 0 1 0 -5.7 0zM2445.9 1650.0a3.3 3.3 0 1 0 6.6 0a3.3 3.3 0 1 0 -6.6 0zM2466.5 2042.4a3.0 3.0 0 1 0 5.9 0a3.0 3.0 0 1 0 -5.9 0zM2433.5 1984.8a2.7 2.7 0 1 0 5.4 0a2.7 2.7 0 1 0 -5.4 0zM2479.5 2022.6a2.8 2.8 0 1 0 5.6 0a2.8 2.8 0 1 0 -5.6 0zM2482.0 1589.5a3.0 3.0 0 1 0 6.1 0a3.0 3.0 0 1 0 -6.1 0zM2454.2 1952.1a3.1 3.1 0 1 0 6.2 0a3.1 3.1 0 1 0 -6.2 0zM2440.0 1615.4a2.9 2.9 0 1 0 5.9 0a2.9 2.9 0 1 0 -5.9 0zM2478.9 1617.4a3.3 3.3 0 1 0 6.5 0a3.3 3.3 0 1 0 -6.5 0zM2504.7 2084.9a2.9 2.9 0 1 0 5.9 0a2.9 2.9 0 1 0 -5.9 0zM2444.5 1927.4a3.0 3.0 0 1 0 5.9 0a3.0 3.0 0 1 0 -5.9 0zM2441.7 1780.3a2.7 2.7 0 1 0 5.5 0a2.7 2.7 0 1 0 -5.5 0zM2461.8 1625.3a3.2 3.2 0 1 0 6.4 0a3.2 3.2 0 1 0 -6.4 0zM2499.6 1848.2a3.4 3.4 0 1 0 6.9 0a3.4 3.4 0 1 0 -6.9 0zM2444.3 2067.7a2.9 2.9 0 1 0 5.9 0a2.9 2.9 0 1 0 -5.9 0zM2489.1 1570.2a2.7 2.7 0 1 0 5.4 0a2.7 2.7 0 1 0 -5.4 0zM2449.4 1894.2a3.1 3.1 0 1 0 6.2 0a3.1 3.1 0 1 0 -6.2 0zM2583.3 1906.1a3.4 3.4 0 1 0 6.8 0a3.4 3.4 0 1 0 -6.8 0zM2562.9 1918.6a3.0 3.0 0 1 0 5.9 0a3.0 3.0 0 1 0 -5.9 0zM2561.7 2022.4a3.1 3.1 0 1 0 6.2 0a3.1 3.1 0 1 0 -6.2 0zM2577.5 2084.2a3.2 3.2 0 1 0 6.5 0a3.2 3.2 0 1 0 -6.5 0zM2510.8 1813.0a3.1 3.1 0 1 0 6.3 0a3.1 3.1 0 1 0 -6.3 0zM2576.4 2026.0a3.1 3.1 0 1 0 6.2 0a3.1 3.1 0 1 0 -6.2 0zM2508.8 1828.9a3.5 3.5 0 1 0 6.9 0a3.5 3.5 0 1 0 -6.9 0zM2566.5 1785.2a2.8 2.8 0 1 0 5.6 0a2.8 2.8 0 1 0 -5.6 0zM2543.8 1876.4a2.8 2.8 0 1 0 5.6 0a2.8 2.8 0 1 0 -5.6 0zM2570.8 1633.5a3.1 3.1 0 1 0 6.2 0a3.1 3.1 0 1 0 -6.2 0zM2549.8 1947.8a3.0 3.0 0 1 0 5.9 0a3.0 3.0 0 1 0 -5.9 0zM2547.0 1587.6a3.1 3.1 0 1 0 6.2 0a3.1 3.1 0 1 0 -6.2 0zM2573.8 1770.4a3.4 3.4 0 1 0 6.8 0a3.4 3.4 0 1 0 -6.8 0zM2582.1 1877.0a3.4 3.4 0 1 0 6.7 0a3.4 3.4 0 1 0 -6.7 0zM2525.5 1799.5a3.3 3.3 0 1 0 6.6 0a3.3 3.3 0 1 0 -6.6 0zM2560.4 1871.6a2.8 2.8 0 1 0 5.5 0a2.8 2.8 0 1 0 -5.5 0zM2563.7 1708.3a2.8 2.8 0 1 0 5.6 0a2.8 2.8 0 1 0 -5.6 0zM2569.9 1734.9a3.4 3.4 0 1 0 6.9 0a3.4 3.4 0 1 0 -6.9 0zM2555.9 1832.8a3.2 3.2 0 1 0 6.5 0a3.2 3.2 0 1 0 -6.5 0zM2567.3 1601.4a2.7 2.7 0 1 0 5.4 0a2.7 2.7 0 1 0 -5.4 0zM2534.7 1977.1a2.9 2.9 0 1 0 5.8 0a2.9 2.9 0 1 0 -5.8 0zM2576.7 1797.3a3.3 3.3 0 1 0 6.5 0a3.3 3.3 0 1 0 -6.5 0zM2580.3 1992.2a3.5 3.5 0 1 0 7.0 0a3.5 3.5 0 1 0 -7.0 0zM2549.6 1730.4a3.3 3.3 0 1 0 6.5 0a3.3 3.3 0 1 0 -6.5 0zM2556.6 1529.3a3.5 3.5 0 1 0 6.9 0a3.5 3.5 0 1 0 -6.9 0zM2572.2 2055.3a3.4 3.4 0 1 0 6.8 0a3.4 3.4 0 1 0 -6.8 0zM2527.6 2054.1a3.0 3.0 0 1 0 6.1 0a3.0 3.0 0 1 0 -6.1 0zM2523.7 1854.1a3.3 3.3 0 1 0 6.5 0a3.3 3.3 0 1 0 -6.5 0zM2537.7 2087.9a2.9 2.9 0 1 0 5.7 0a2.9 2.9 0 1 0 -5.7 0zM2534.1 1898.3a3.2 3.2 0 1 0 6.3 0a3.2 3.2 0 1 0 -6.3 0zM2531.4 2029.7a3.5 3.5 0 1 0 7.0 0a3.5 3.5 0 1 0 -7.0 0zM2552.5 1668.0a3.3 3.3 0 1 0 6.6 0a3.3 3.3 0 1 0 -6.6 0zM2560.8 2092.1a3.0 3.0 0 1 0 6.0 0a3.0 3.0 0 1 0 -6.0 0zM2561.4 1992.2a3.4 3.4 0 1 0 6.7 0a3.4 3.4 0 1 0 -6.7 0zM2551.7 1782.5a3.5 3.5 0 1 0 7.0 0a3.5 3.5 0 1 0 -7.0 0zM2559.8 1614.7a3.2 3.2 0 1 0 6.4 0a3.2 3.2 0 1 0 -6.4 0zM2516.4 1632.7a3.4 3.4 0 1 0 6.7 0a3.4 3.4 0 1 0 -6.7 0zM2542.1 1538.7a3.5 3.5 0 1 0 6.9 0a3.5 3.5 0 1 0 -6.9 0zM2581.2 1650.2a3.0 3.0 0 1 0 6.0 0a3.0 3.0 0 1 0 -6.0 0zM2578.4 1977.0a3.1 3.1 0 1 0 6.2 0a3.1 3.1 0 1 0 -6.2 0zM2579.7 1537.4a2.9 2.9 0 1 0 5.9 0a2.9 2.9 0 1 0 -5.9 0zM2523.5 1549.6a2.9 2.9 0 1 0 5.7 0a2.9 2.9 0 1 0 -5.7 0zM2574.2 1953.0a3.2 3.2 0 1 0 6.4 0a3.2 3.2 0 1 0 -6.4 0zM2570.0 1575.5a3.3 3.3 0 1 0 6.5 0a3.3 3.3 0 1 0 -6.5 0zM2518.4 1702.5a3.2 3.2 0 1 0 6.5 0a3.2 3.2 0 1 0 -6.5 0zM2514.6 1764.7a3.1 3.1 0 1 0 6.1 0a3.1 3.1 0 1 0 -6.1 0zM2541.2 1698.1a3.1 3.1 0 1 0 6.1 0a3.1 3.1 0 1 0 -6.1 0zM2520.3 1944.6a2.8 2.8 0 1 0 5.6 0a2.8 2.8 0 1 0 -5.6 0zM2519.0 1668.4a3.3 3.3 0 1 0 6.7 0a3.3 3.3 0 1 0 -6.7 0zM2548.3 1927.9a2.9 2.9 0 1 0 5.8 0a2.9 2.9 0 1 0 -5.8 0zM2623.5 1950.6a2.8 2.8 0 1 0 5.7 0a2.8 2.8 0 1 0 -5.7 0zM2640.3 2007.2a2.7 2.7 0 1 0 5.5 0a2.7 2.7 0 1 0 -5.5 0zM2589.0 1575.8a2.7 2.7 0 1 0 5.5 0a2.7 2.7 0 1 0 -5.5 0zM2651.5 2068.7a3.2 3.2 0 1 0 6.3 0a3.2 3.2 0 1 0 -6.3 0zM2603.6 1629.3a2.9 2.9 0 1 0 5.8 0a2.9 2.9 0 1 0 -5.8 0zM2608.3 1833.0a2.8 2.8 0 1 0 5.6 0a2.8 2.8 0 1 0 -5.6 0zM2646.9 1579.9a3.0 3.0 0 1 0 6.0 0a3.0 3.0 0 1 0 -6.0 0zM2597.9 1856.9a3.3 3.3 0 1 0 6.6 0a3.3 3.3 0 1 0 -6.6 0zM2626.0 1807.9a3.0 3.0 0 1 0 6.0 0a3.0 3.0 0 1 0 -6.0 0zM2611.6 1936.1a3.3 3.3 0 1 0 6.5 0a3.3 3.3 0 1 0 -6.5 0zM2659.9 1897.3a3.3 3.3 0 1 0 6.6 0a3.3 3.3 0 1 0 -6.6 0zM2634.7 1550.9a3.5 3.5 0 1 0 7.0 0a3.5 3.5 0 1 0 -7.0 0zM2646.4 1900.6a2.8 2.8 0 1 0 5.6 0a2.8 2.8 0 1 0 -5.6 0zM2653.7 1755.1a3.4 3.4 0 1 0 6.8 0a3.4 3.4 0 1 0 -6.8 0zM2631.1 2027.1a3.2 3.2 0 1 0 6.4 0a3.2 3.2 0 1 0 -6.4 0zM2611.9 1726.2a2.8 2.8 0 1 0 5.5 0a2.8 2.8 0 1 0 -5.5 0zM2619.7 1588.0a3.2 3.2 0 1 0 6.5 0a3.2 3.2 0 1 0 -6.5 0zM2648.2 1950.7a3.1 3.1 0 1 0 6.2 0a3.1 3.1 0 1 0 -6.2 0zM2634.7 1749.8a3.4 3.4 0 1 0 6.7 0a3.4 3.4 0 1 0 -6.7 0zM2632.7 1981.1a3.4 3.4 0 1 0 6.8 0a3.4 3.4 0 1 0 -6.8 0zM2654.4 1998.7a3.5 3.5 0 1 0 6.9 0a3.5 3.5 0 1 0 -6.9 0zM2600.7 2072.6a3.4 3.4 0 1 0 6.8 0a3.4 3.4 0 1 0 -6.8 0zM2585.3 1731.1a2.7 2.7 0 1 0 5.5 0a2.7 2.7 0 1 0 -5.5 0zM2633.6 1633.5a3.1 3.1 0 1 0 6.3 0a3.1 3.1 0 1 0 -6.3 0zM2636.0 1598.0a3.3 3.3 0 1 0 6.6 0a3.3 3.3 0 1 0 -6.6 0zM2605.9 1741.3a3.4 3.4 0 1 0 6.9 0a3.4 3.4 0 1 0 -6.9 0zM2651.4 1736.6a2.9 2.9 0 1 0 5.8 0a2.9 2.9 0 1 0 -5.8 0zM2642.1 1711.3a3.1 3.1 0 1 0 6.1 0a3.1 3.1 0 1 0 -6.1 0zM2612.7 1558.7a3.1 3.1 0 1 0 6.2 0a3.1 3.1 0 1 0 -6.2 0zM2630.7 1570.8a3.3 3.3 0 1 0 6.6 0a3.3 3.3 0 1 0 -6.6 0zM2619.6 1669.1a3.5 3.5 0 1 0 7.0 0a3.5 3.5 0 1 0 -7.0 0zM2658.0 1547.6a3.0 3.0 0 1 0 6.1 0a3.0 3.0 0 1 0 -6.1 0zM2614.2 2038.0a3.3 3.3 0 1 0 6.6 0a3.3 3.3 0 1 0 -6.6 0zM2605.7 1981.9a3.5 3.5 0 1 0 7.0 0a3.5 3.5 0 1 0 -7.0 0zM2638.1 1531.6a2.8 2.8 0 1 0 5.5 0a2.8 2.8 0 1 0 -5.5 0zM2659.8 1810.3a3.2 3.2 0 1 0 6.4 0a3.2 3.2 0 1 0 -6.4 0zM2631.1 2057.3a3.4 3.4 0 1 0 6.7 0a3.4 3.4 0 1 0 -6.7 0zM2591.8 2009.6a3.3 3.3 0 1 0 6.6 0a3.3 3.3 0 1 0 -6.6 0zM2609.4 2091.2a2.8 2.8 0 1 0 5.7 0a2.8 2.8 0 1 0 -5.7 0zM2606.6 1877.3a2.7 2.7 0 1 0 5.5 0a2.7 2.7 0 1 0 -5.5 0zM2596.1 1812.3a3.0 3.0 0 1 0 6.1 0a3.0 3.0 0 1 0 -6.1 0zM2608.8 1688.0a2.8 2.8 0 1 0 5.6 0a2.8 2.8 0 1 0 -5.6 0zM2645.5 1683.7a2.9 2.9 0 1 0 5.7 0a2.9 2.9 0 1 0 -5.7 0zM2609.3 1645.8a3.3 3.3 0 1 0 6.5 0a3.3 3.3 0 1 0 -6.5 0zM2698.0 1783.3a3.3 3.3 0 1 0 6.7 0a3.3 3.3 0 1 0 -6.7 0zM2701.4 1922.7a3.3 3.3 0 1 0 6.6 0a3.3 3.3 0 1 0 -6.6 0zM2677.2 1718.6a2.8 2.8 0 1 0 5.5 0a2.8 2.8 0 1 0 -5.5 0zM2736.1 2019.0a3.3 3.3 0 1 0 6.7 0a3.3 3.3 0 1 0 -6.7 0zM2696.1 2019.6a3.3 3.3 0 1 0 6.6 0a3.3 3.3 0 1 0 -6.6 0zM2704.8 1731.8a3.2 3.2 0 1 0 6.5 0a3.2 3.2 0 1 0 -6.5 0zM2682.2 1559.6a2.9 2.9 0 1 0 5.8 0a2.9 2.9 0 1 0 -5.8 0zM2691.7 1796.4a3.0 3.0 0 1 0 6.1 0a3.0 3.0 0 1 0 -6.1 0zM2670.0 2092.3a3.0 3.0 0 1 0 6.1 0a3.0 3.0 0 1 0 -6.1 0zM2691.4 1580.9a2.8 2.8 0 1 0 5.7 0a2.8 2.8 0 1 0 -5.7 0zM2725.3 1942.9a3.4 3.4 0 1 0 6.8 0a3.4 3.4 0 1 0 -6.8 0zM2700.2 2083.6a3.5 3.5 0 1 0 6.9 0a3.5 3.5 0 1 0 -6.9 0zM2735.6 1722.4a2.7 2.7 0 1 0 5.5 0a2.7 2.7 0 1 0 -5.5 0zM2732.7 1865.3a3.0 3.0 0 1 0 5.9 0a3.0 3.0 0 1 0 -5.9 0zM2704.5 1825.1a3.0 3.0 0 1 0 6.0 0a3.0 3.0 0 1 0 -6.0 0zM2694.8 2115.2a2.7 2.7 0 1 0 5.4 0a2.7 2.7 0 1 0 -5.4 0zM2687.8 1658.3a2.8 2.8 0 1 0 5.6 0a2.8 2.8 0 1 0 -5.6 0zM2699.2 1713.8a2.7 2.7 0 1 0 5.4 0a2.7 2.7 0 1 0 -5.4 0zM2743.8 1709.1a2.9 2.9 0 1 0 5.8 0a2.9 2.9 0 1 0 -5.8 0zM2675.1 1869.9a3.2 3.2 0 1 0 6.3 0a3.2 3.2 0 1 0 -6.3 0zM2738.2 1842.5a2.8 2.8 0 1 0 5.5 0a2.8 2.8 0 1 0 -5.5 0zM2702.7 1496.4a3.2 3.2 0 1 0 6.5 0a3.2 3.2 0 1 0 -6.5 0zM2710.2 2008.6a2.9 2.9 0 1 0 5.8 0a2.9 2.9 0 1 0 -5.8 0zM2682.5 1908.0a2.9 2.9 0 1 0 5.8 0a2.9 2.9 0 1 0 -5.8 0zM2715.0 1547.6a2.9 2.9 0 1 0 5.8 0a2.9 2.9 0 1 0 -5.8 0zM2695.9 1880.4a3.0 3.0 0 1 0 6.0 0a3.0 3.0 0 1 0 -6.0 0zM2734.1 1656.3a3.3 3.3 0 1 0 6.7 0a3.3 3.3 0 1 0 -6.7 0zM2667.7 1584.5a3.1 3.1 0 1 0 6.2 0a3.1 3.1 0 1 0 -6.2 0zM2721.2 1833.9a3.1 3.1 0 1 0 6.1 0a3.1 3.1 0 1 0 -6.1 0zM2726.4 2146.2a3.3 3.3 0 1 0 6.5 0a3.3 3.3 0 1 0 -6.5 0zM2711.8 1645.9a3.4 3.4 0 1 0 6.8 0a3.4 3.4 0 1 0 -6.8 0zM2695.0 2135.1a2.9 2.9 0 1 0 5.9 0a2.9 2.9 0 1 0 -5.9 0zM2684.1 1748.5a3.0 3.0 0 1 0 6.0 0a3.0 3.0 0 1 0 -6.0 0zM2689.9 1813.3a3.1 3.1 0 1 0 6.2 0a3.1 3.1 0 1 0 -6.2 0zM2735.3 2129.8a2.8 2.8 0 1 0 5.6 0a2.8 2.8 0 1 0 -5.6 0zM2726.7 2034.8a3.1 3.1 0 1 0 6.1 0a3.1 3.1 0 1 0 -6.1 0zM2698.8 1852.2a3.2 3.2 0 1 0 6.4 0a3.2 3.2 0 1 0 -6.4 0zM2701.7 1621.4a2.9 2.9 0 1 0 5.8 0a2.9 2.9 0 1 0 -5.8 0zM2702.4 1963.3a3.0 3.0 0 1 0 5.9 0a3.0 3.0 0 1 0 -5.9 0zM2711.6 2064.4a3.4 3.4 0 1 0 6.8 0a3.4 3.4 0 1 0 -6.8 0zM2670.9 1774.0a3.2 3.2 0 1 0 6.3 0a3.2 3.2 0 1 0 -6.3 0zM2711.8 1685.6a2.9 2.9 0 1 0 5.7 0a2.9 2.9 0 1 0 -5.7 0zM2779.4 1981.2a2.9 2.9 0 1 0 5.8 0a2.9 2.9 0 1 0 -5.8 0zM2806.1 1950.3a2.8 2.8 0 1 0 5.6 0a2.8 2.8 0 1 0 -5.6 0zM2800.9 2146.8a3.2 3.2 0 1 0 6.5 0a3.2 3.2 0 1 0 -6.5 0zM2782.0 1615.8a3.1 3.1 0 1 0 6.2 0a3.1 3.1 0 1 0 -6.2 0zM2793.3 1765.6a3.4 3.4 0 1 0 6.9 0a3.4 3.4 0 1 0 -6.9 0zM2750.1 1886.6a2.9 2.9 0 1 0 5.8 0a2.9 2.9 0 1 0 -5.8 0zM2770.4 1591.1a3.3 3.3 0 1 0 6.7 0a3.3 3.3 0 1 0 -6.7 0zM2758.2 1941.3a3.2 3.2 0 1 0 6.4 0a3.2 3.2 0 1 0 -6.4 0zM2770.1 1778.8a3.0 3.0 0 1 0 5.9 0a3.0 3.0 0 1 0 -5.9 0zM2757.2 1617.8a3.1 3.1 0 1 0 6.3 0a3.1 3.1 0 1 0 -6.3 0zM2808.0 1645.8a3.4 3.4 0 1 0 6.7 0a3.4 3.4 0 1 0 -6.7 0zM2797.4 1750.2a2.7 2.7 0 1 0 5.5 0a2.7 2.7 0 1 0 -5.5 0zM2785.8 1814.5a2.7 2.7 0 1 0 5.4 0a2.7 2.7 0 1 0 -5.4 0zM2798.3 1872.0a2.9 2.9 0 1 0 5.8 0a2.9 2.9 0 1 0 -5.8 0zM2779.2 1845.9a2.9 2.9 0 1 0 5.9 0a2.9 2.9 0 1 0 -5.9 0zM2775.6 1545.2a2.9 2.9 0 1 0 5.8 0a2.9 2.9 0 1 0 -5.8 0zM2768.8 1967.5a2.9 2.9 0 1 0 5.8 0a2.9 2.9 0 1 0 -5.8 0zM2800.9 2078.7a3.3 3.3 0 1 0 6.6 0a3.3 3.3 0 1 0 -6.6 0zM2786.7 1899.4a2.9 2.9 0 1 0 5.7 0a2.9 2.9 0 1 0 -5.7 0zM2745.9 1745.3a3.1 3.1 0 1 0 6.2 0a3.1 3.1 0 1 0 -6.2 0zM2805.4 1812.7a2.9 2.9 0 1 0 5.9 0a2.9 2.9 0 1 0 -5.9 0zM2753.8 2104.1a2.8 2.8 0 1 0 5.7 0a2.8 2.8 0 1 0 -5.7 0zM2791.7 1711.1a3.4 3.4 0 1 0 6.8 0a3.4 3.4 0 1 0 -6.8 0zM2776.9 1698.3a2.8 2.8 0 1 0 5.6 0a2.8 2.8 0 1 0 -5.6 0zM2819.8 1837.0a3.1 3.1 0 1 0 6.1 0a3.1 3.1 0 1 0 -6.1 0zM2813.8 2087.2a3.4 3.4 0 1 0 6.8 0a3.4 3.4 0 1 0 -6.8 0zM2771.0 2133.4a3.4 3.4 0 1 0 6.8 0a3.4 3.4 0 1 0 -6.8 0zM2765.0 1503.7a3.1 3.1 0 1 0 6.1 0a3.1 3.1 0 1 0 -6.1 0zM2752.7 2150.0a2.8 2.8 0 1 0 5.5 0a2.8 2.8 0 1 0 -5.5 0zM2813.3 1742.6a2.9 2.9 0 1 0 5.8 0a2.9 2.9 0 1 0 -5.8 0zM2774.0 2108.5a3.2 3.2 0 1 0 6.5 0a3.2 3.2 0 1 0 -6.5 0zM2765.6 2078.4a3.1 3.1 0 1 0 6.3 0a3.1 3.1 0 1 0 -6.3 0zM2816.6 2108.4a3.2 3.2 0 1 0 6.4 0a3.2 3.2 0 1 0 -6.4 0zM2806.0 1827.8a3.3 3.3 0 1 0 6.7 0a3.3 3.3 0 1 0 -6.7 0zM2790.4 1801.1a3.3 3.3 0 1 0 6.6 0a3.3 3.3 0 1 0 -6.6 0zM2760.2 1645.3a2.8 2.8 0 1 0 5.6 0a2.8 2.8 0 1 0 -5.6 0zM2818.6 2147.5a3.3 3.3 0 1 0 6.6 0a3.3 3.3 0 1 0 -6.6 0zM2807.0 1676.9a3.0 3.0 0 1 0 6.0 0a3.0 3.0 0 1 0 -6.0 0zM2756.4 1601.9a3.0 3.0 0 1 0 6.0 0a3.0 3.0 0 1 0 -6.0 0zM2803.3 1518.5a3.4 3.4 0 1 0 6.8 0a3.4 3.4 0 1 0 -6.8 0zM2801.6 2031.3a3.0 3.0 0 1 0 6.0 0a3.0 3.0 0 1 0 -6.0 0zM2875.3 1733.3a3.1 3.1 0 1 0 6.2 0a3.1 3.1 0 1 0 -6.2 0zM2902.4 1667.6a2.7 2.7 0 1 0 5.5 0a2.7 2.7 0 1 0 -5.5 0zM2894.2 1762.3a3.1 3.1 0 1 0 6.3 0a3.1 3.1 0 1 0 -6.3 0zM2855.2 1996.4a3.5 3.5 0 1 0 6.9 0a3.5 3.5 0 1 0 -6.9 0zM2871.0 1687.6a2.8 2.8 0 1 0 5.6 0a2.8 2.8 0 1 0 -5.6 0zM2899.8 2037.2a2.8 2.8 0 1 0 5.7 0a2.8 2.8 0 1 0 -5.7 0zM2877.3 1672.1a3.3 3.3 0 1 0 6.6 0a3.3 3.3 0 1 0 -6.6 0zM2857.1 1899.9a2.7 2.7 0 1 0 5.4 0a2.7 2.7 0 1 0 -5.4 0zM2861.8 1752.9a2.8 2.8 0 1 0 5.6 0a2.8 2.8 0 1 0 -5.6 0zM2869.7 1963.7a3.5 3.5 0 1 0 6.9 0a3.5 3.5 0 1 0 -6.9 0zM2891.2 2004.7a3.3 3.3 0 1 0 6.6 0a3.3 3.3 0 1 0 -6.6 0zM2834.3 1882.3a3.4 3.4 0 1 0 6.8 0a3.4 3.4 0 1 0 -6.8 0zM2902.8 1708.7a3.5 3.5 0 1 0 7.0 0a3.5 3.5 0 1 0 -7.0 0zM2867.7 1864.3a3.4 3.4 0 1 0 6.9 0a3.4 3.4 0 1 0 -6.9 0zM2875.8 2024.0a3.0 3.0 0 1 0 6.1 0a3.0 3.0 0 1 0 -6.1 0zM2889.7 1682.5a2.8 2.8 0 1 0 5.7 0a2.8 2.8 0 1 0 -5.7 0zM2896.6 1636.5a3.0 3.0 0 1 0 6.1 0a3.0 3.0 0 1 0 -6.1 0zM2841.6 1837.3a3.5 3.5 0 1 0 7.0 0a3.5 3.5 0 1 0 -7.0 0zM2838.9 1733.6a2.8 2.8 0 1 0 5.5 0a2.8 2.8 0 1 0 -5.5 0zM2888.7 1825.6a3.0 3.0 0 1 0 6.0 0a3.0 3.0 0 1 0 -6.0 0zM2825.9 1766.2a2.8 2.8 0 1 0 5.7 0a2.8 2.8 0 1 0 -5.7 0zM2864.8 1601.4a3.4 3.4 0 1 0 6.9 0a3.4 3.4 0 1 0 -6.9 0zM2841.1 2011.5a2.8 2.8 0 1 0 5.6 0a2.8 2.8 0 1 0 -5.6 0zM2842.6 2031.7a2.8 2.8 0 1 0 5.6 0a2.8 2.8 0 1 0 -5.6 0zM2882.7 1954.1a3.4 3.4 0 1 0 6.7 0a3.4 3.4 0 1 0 -6.7 0zM2839.1 1806.6a2.9 2.9 0 1 0 5.9 0a2.9 2.9 0 1 0 -5.9 0zM2854.5 1649.8a3.5 3.5 0 1 0 6.9 0a3.5 3.5 0 1 0 -6.9 0zM2850.0 1921.7a2.8 2.8 0 1 0 5.5 0a2.8 2.8 0 1 0 -5.5 0zM2829.4 1862.7a2.9 2.9 0 1 0 5.8 0a2.9 2.9 0 1 0 -5.8 0zM2869.1 1888.1a3.0 3.0 0 1 0 6.0 0a3.0 3.0 0 1 0 -6.0 0zM2833.9 1665.2a3.4 3.4 0 1 0 6.8 0a3.4 3.4 0 1 0 -6.8 0zM2878.9 1594.0a2.8 2.8 0 1 0 5.5 0a2.8 2.8 0 1 0 -5.5 0zM2831.8 2112.3a3.1 3.1 0 1 0 6.2 0a3.1 3.1 0 1 0 -6.2 0zM2875.3 1626.3a3.3 3.3 0 1 0 6.6 0a3.3 3.3 0 1 0 -6.6 0zM2958.2 1852.2a3.4 3.4 0 1 0 6.8 0a3.4 3.4 0 1 0 -6.8 0zM2913.0 1636.2a3.4 3.4 0 1 0 6.7 0a3.4 3.4 0 1 0 -6.7 0zM2970.9 1911.1a3.2 3.2 0 1 0 6.4 0a3.2 3.2 0 1 0 -6.4 0zM2981.6 1579.1a3.1 3.1 0 1 0 6.2 0a3.1 3.1 0 1 0 -6.2 0zM2913.9 2009.0a3.3 3.3 0 1 0 6.6 0a3.3 3.3 0 1 0 -6.6 0zM2913.2 1918.0a3.1 3.1 0 1 0 6.2 0a3.1 3.1 0 1 0 -6.2 0zM2936.4 1947.0a3.3 3.3 0 1 0 6.7 0a3.3 3.3 0 1 0 -6.7 0zM2975.6 1769.0a3.5 3.5 0 1 0 6.9 0a3.5 3.5 0 1 0 -6.9 0zM2953.8 1892.7a3.2 3.2 0 1 0 6.4 0a3.2 3.2 0 1 0 -6.4 0zM2932.7 1609.6a2.8 2.8 0 1 0 5.6 0a2.8 2.8 0 1 0 -5.6 0zM2941.4 1964.7a3.2 3.2 0 1 0 6.4 0a3.2 3.2 0 1 0 -6.4 0zM2932.8 1733.4a3.5 3.5 0 1 0 6.9 0a3.5 3.5 0 1 0 -6.9 0zM2925.9 1934.2a3.3 3.3 0 1 0 6.6 0a3.3 3.3 0 1 0 -6.6 0zM2975.4 1989.4a3.1 3.1 0 1 0 6.3 0a3.1 3.1 0 1 0 -6.3 0zM2945.2 2013.2a3.4 3.4 0 1 0 6.7 0a3.4 3.4 0 1 0 -6.7 0zM2966.6 1833.3a3.1 3.1 0 1 0 6.3 0a3.1 3.1 0 1 0 -6.3 0zM2916.8 1546.0a2.7 2.7 0 1 0 5.4 0a2.7 2.7 0 1 0 -5.4 0zM2929.3 1791.6a3.3 3.3 0 1 0 6.7 0a3.3 3.3 0 1 0 -6.7 0zM2923.1 1830.4a2.7 2.7 0 1 0 5.5 0a2.7 2.7 0 1 0 -5.5 0zM2983.4 1617.3a2.8 2.8 0 1 0 5.5 0a2.8 2.8 0 1 0 -5.5 0zM2937.2 1636.2a2.8 2.8 0 1 0 5.7 0a2.8 2.8 0 1 0 -5.7 0zM2968.3 1618.5a2.8 2.8 0 1 0 5.7 0a2.8 2.8 0 1 0 -5.7 0zM2964.2 1525.6a2.9 2.9 0 1 0 5.8 0a2.9 2.9 0 1 0 -5.8 0zM2954.4 1806.9a2.9 2.9 0 1 0 5.8 0a2.9 2.9 0 1 0 -5.8 0zM2942.2 1654.3a2.8 2.8 0 1 0 5.6 0a2.8 2.8 0 1 0 -5.6 0zM2919.6 1593.2a2.8 2.8 0 1 0 5.6 0a2.8 2.8 0 1 0 -5.6 0zM2915.1 1731.3a3.5 3.5 0 1 0 7.0 0a3.5 3.5 0 1 0 -7.0 0zM2919.3 1655.2a3.4 3.4 0 1 0 6.8 0a3.4 3.4 0 1 0 -6.8 0zM2970.6 1633.2a3.3 3.3 0 1 0 6.7 0a3.3 3.3 0 1 0 -6.7 0zM2947.7 1609.2a3.4 3.4 0 1 0 6.8 0a3.4 3.4 0 1 0 -6.8 0zM2944.2 1767.7a3.1 3.1 0 1 0 6.1 0a3.1 3.1 0 1 0 -6.1 0zM2974.7 1562.6a3.0 3.0 0 1 0 5.9 0a3.0 3.0 0 1 0 -5.9 0zM2955.4 1946.3a3.1 3.1 0 1 0 6.3 0a3.1 3.1 0 1 0 -6.3 0zM2929.5 1672.4a2.9 2.9 0 1 0 5.9 0a2.9 2.9 0 1 0 -5.9 0zM2925.5 1691.1a3.4 3.4 0 1 0 6.8 0a3.4 3.4 0 1 0 -6.8 0zM3025.5 1531.5a3.0 3.0 0 1 0 6.0 0a3.0 3.0 0 1 0 -6.0 0zM3001.8 1911.8a3.1 3.1 0 1 0 6.2 0a3.1 3.1 0 1 0 -6.2 0zM3062.4 1848.3a3.4 3.4 0 1 0 6.8 0a3.4 3.4 0 1 0 -6.8 0zM3009.6 1943.3a2.9 2.9 0 1 0 5.8 0a2.9 2.9 0 1 0 -5.8 0zM3046.9 1586.6a3.1 3.1 0 1 0 6.2 0a3.1 3.1 0 1 0 -6.2 0zM2985.4 1727.8a3.4 3.4 0 1 0 6.9 0a3.4 3.4 0 1 0 -6.9 0zM3051.7 1658.4a2.8 2.8 0 1 0 5.6 0a2.8 2.8 0 1 0 -5.6 0zM3013.5 1815.6a3.2 3.2 0 1 0 6.4 0a3.2 3.2 0 1 0 -6.4 0zM3012.3 1740.4a3.5 3.5 0 1 0 6.9 0a3.5 3.5 0 1 0 -6.9 0zM3009.0 1630.6a3.3 3.3 0 1 0 6.5 0a3.3 3.3 0 1 0 -6.5 0zM2986.4 1747.2a3.3 3.3 0 1 0 6.5 0a3.3 3.3 0 1 0 -6.5 0zM3013.7 1725.3a2.8 2.8 0 1 0 5.5 0a2.8 2.8 0 1 0 -5.5 0zM3047.2 1862.3a3.4 3.4 0 1 0 6.8 0a3.4 3.4 0 1 0 -6.8 0zM3012.7 1582.1a3.4 3.4 0 1 0 6.8 0a3.4 3.4 0 1 0 -6.8 0zM2988.0 1959.5a3.4 3.4 0 1 0 6.9 0a3.4 3.4 0 1 0 -6.9 0zM3031.2 1637.9a3.0 3.0 0 1 0 5.9 0a3.0 3.0 0 1 0 -5.9 0zM3054.1 1619.9a3.4 3.4 0 1 0 6.9 0a3.4 3.4 0 1 0 -6.9 0zM3006.8 1554.2a3.1 3.1 0 1 0 6.2 0a3.1 3.1 0 1 0 -6.2 0zM3063.3 1686.2a3.1 3.1 0 1 0 6.2 0a3.1 3.1 0 1 0 -6.2 0zM3000.1 1886.5a3.5 3.5 0 1 0 7.0 0a3.5 3.5 0 1 0 -7.0 0zM3000.1 1612.1a3.0 3.0 0 1 0 5.9 0a3.0 3.0 0 1 0 -5.9 0zM3021.0 1764.1a2.9 2.9 0 1 0 5.8 0a2.9 2.9 0 1 0 -5.8 0zM3031.1 1701.9a3.3 3.3 0 1 0 6.5 0a3.3 3.3 0 1 0 -6.5 0zM2990.9 1650.5a3.3 3.3 0 1 0 6.6 0a3.3 3.3 0 1 0 -6.6 0zM3056.3 1715.0a3.5 3.5 0 1 0 6.9 0a3.5 3.5 0 1 0 -6.9 0zM3101.8 1593.5a3.1 3.1 0 1 0 6.2 0a3.1 3.1 0 1 0 -6.2 0zM3067.6 1826.7a3.2 3.2 0 1 0 6.5 0a3.2 3.2 0 1 0 -6.5 0zM3119.4 1678.3a3.5 3.5 0 1 0 7.0 0a3.5 3.5 0 1 0 -7.0 0zM3087.0 1784.0a3.1 3.1 0 1 0 6.1 0a3.1 3.1 0 1 0 -6.1 0zM3128.0 1747.0a3.3 3.3 0 1 0 6.7 0a3.3 3.3 0 1 0 -6.7 0zM3078.7 1578.1a2.7 2.7 0 1 0 5.5 0a2.7 2.7 0 1 0 -5.5 0zM3112.5 1818.2a3.5 3.5 0 1 0 7.0 0a3.5 3.5 0 1 0 -7.0 0zM3140.7 1802.7a2.8 2.8 0 1 0 5.6 0a2.8 2.8 0 1 0 -5.6 0zM3110.0 1608.2a2.9 2.9 0 1 0 5.7 0a2.9 2.9 0 1 0 -5.7 0zM3124.0 1622.9a3.3 3.3 0 1 0 6.6 0a3.3 3.3 0 1 0 -6.6 0zM3139.8 1581.7a2.9 2.9 0 1 0 5.7 0a2.9 2.9 0 1 0 -5.7 0zM3076.9 1761.6a2.7 2.7 0 1 0 5.4 0a2.7 2.7 0 1 0 -5.4 0zM3109.1 1713.6a3.3 3.3 0 1 0 6.5 0a3.3 3.3 0 1 0 -6.5 0zM3067.6 1705.6a3.1 3.1 0 1 0 6.2 0a3.1 3.1 0 1 0 -6.2 0zM3074.8 1800.5a2.7 2.7 0 1 0 5.5 0a2.7 2.7 0 1 0 -5.5 0zM3127.6 1793.5a2.9 2.9 0 1 0 5.9 0a2.9 2.9 0 1 0 -5.9 0zM3108.9 1741.4a3.4 3.4 0 1 0 6.7 0a3.4 3.4 0 1 0 -6.7 0z"/><ellipse cx="2417.4" cy="1478.3" rx="4.4" ry="3.1" transform="rotate(41 2417.4 1478.3)"/><ellipse cx="2610.2" cy="1499.7" rx="4.1" ry="2.9" transform="rotate(178 2610.2 1499.7)"/><ellipse cx="3045.6" cy="1543.2" rx="4.0" ry="2.8" transform="rotate(82 3045.6 1543.2)"/><ellipse cx="1504.8" cy="1905.6" rx="4.2" ry="2.9" transform="rotate(83 1504.8 1905.6)"/><ellipse cx="1531.4" cy="1889.3" rx="4.4" ry="3.1" transform="rotate(83 1531.4 1889.3)"/><ellipse cx="1532.2" cy="1870.8" rx="4.3" ry="3.0" transform="rotate(156 1532.2 1870.8)"/><ellipse cx="1590.8" cy="1875.0" rx="4.1" ry="2.9" transform="rotate(142 1590.8 1875.0)"/><ellipse cx="1589.3" cy="1849.4" rx="4.0" ry="2.8" transform="rotate(3 1589.3 1849.4)"/><ellipse cx="1656.4" cy="1807.4" rx="4.2" ry="3.0" transform="rotate(114 1656.4 1807.4)"/><ellipse cx="1636.8" cy="1904.9" rx="3.7" ry="2.6" transform="rotate(79 1636.8 1904.9)"/><ellipse cx="1670.0" cy="1790.5" rx="4.1" ry="2.9" transform="rotate(72 1670.0 1790.5)"/><ellipse cx="1629.6" cy="1828.7" rx="4.2" ry="2.9" transform="rotate(29 1629.6 1828.7)"/><ellipse cx="1768.8" cy="1946.3" rx="3.9" ry="2.8" transform="rotate(39 1768.8 1946.3)"/><ellipse cx="1730.2" cy="1839.6" rx="4.2" ry="2.9" transform="rotate(87 1730.2 1839.6)"/><ellipse cx="1715.1" cy="1732.8" rx="4.6" ry="3.2" transform="rotate(150 1715.1 1732.8)"/><ellipse cx="1850.9" cy="1848.5" rx="4.3" ry="3.0" transform="rotate(156 1850.9 1848.5)"/><ellipse cx="1825.3" cy="1681.4" rx="4.5" ry="3.2" transform="rotate(24 1825.3 1681.4)"/><ellipse cx="1805.7" cy="1768.0" rx="3.7" ry="2.6" transform="rotate(21 1805.7 1768.0)"/><ellipse cx="1832.2" cy="1870.6" rx="4.6" ry="3.2" transform="rotate(56 1832.2 1870.6)"/><ellipse cx="1830.4" cy="1790.3" rx="4.1" ry="2.9" transform="rotate(78 1830.4 1790.3)"/><ellipse cx="1849.3" cy="1798.9" rx="4.4" ry="3.1" transform="rotate(1 1849.3 1798.9)"/><ellipse cx="1864.4" cy="1952.9" rx="4.2" ry="3.0" transform="rotate(12 1864.4 1952.9)"/><ellipse cx="1794.6" cy="1789.9" rx="3.9" ry="2.8" transform="rotate(39 1794.6 1789.9)"/><ellipse cx="1799.7" cy="1749.2" rx="4.5" ry="3.1" transform="rotate(146 1799.7 1749.2)"/><ellipse cx="1865.6" cy="1765.0" rx="4.6" ry="3.3" transform="rotate(113 1865.6 1765.0)"/><ellipse cx="1820.6" cy="1840.3" rx="3.8" ry="2.7" transform="rotate(70 1820.6 1840.3)"/><ellipse cx="1800.0" cy="1832.6" rx="4.1" ry="2.9" transform="rotate(148 1800.0 1832.6)"/><ellipse cx="1878.2" cy="1883.5" rx="4.6" ry="3.2" transform="rotate(28 1878.2 1883.5)"/><ellipse cx="1900.4" cy="1910.0" rx="4.1" ry="2.9" transform="rotate(23 1900.4 1910.0)"/><ellipse cx="1884.2" cy="1683.4" rx="4.3" ry="3.0" transform="rotate(108 1884.2 1683.4)"/><ellipse cx="1930.5" cy="1881.3" rx="4.3" ry="3.0" transform="rotate(63 1930.5 1881.3)"/><ellipse cx="1947.1" cy="1920.7" rx="4.5" ry="3.1" transform="rotate(125 1947.1 1920.7)"/><ellipse cx="1939.4" cy="1780.9" rx="3.7" ry="2.6" transform="rotate(26 1939.4 1780.9)"/><ellipse cx="1896.1" cy="1651.2" rx="4.5" ry="3.2" transform="rotate(156 1896.1 1651.2)"/><ellipse cx="1931.2" cy="1900.1" rx="4.3" ry="3.0" transform="rotate(46 1931.2 1900.1)"/><ellipse cx="1946.5" cy="1739.8" rx="3.8" ry="2.7" transform="rotate(149 1946.5 1739.8)"/><ellipse cx="2011.0" cy="1938.8" rx="3.8" ry="2.7" transform="rotate(169 2011.0 1938.8)"/><ellipse cx="1963.5" cy="1909.9" rx="4.5" ry="3.2" transform="rotate(159 1963.5 1909.9)"/><ellipse cx="1993.9" cy="1886.0" rx="4.2" ry="3.0" transform="rotate(123 1993.9 1886.0)"/><ellipse cx="1969.7" cy="1678.4" rx="4.6" ry="3.2" transform="rotate(41 1969.7 1678.4)"/><ellipse cx="1981.4" cy="1571.7" rx="4.0" ry="2.8" transform="rotate(111 1981.4 1571.7)"/><ellipse cx="2014.5" cy="1603.3" rx="4.4" ry="3.1" transform="rotate(122 2014.5 1603.3)"/><ellipse cx="1986.8" cy="1946.3" rx="4.2" ry="3.0" transform="rotate(42 1986.8 1946.3)"/><ellipse cx="1964.3" cy="1696.9" rx="4.5" ry="3.2" transform="rotate(62 1964.3 1696.9)"/><ellipse cx="2091.9" cy="1570.9" rx="4.1" ry="2.9" transform="rotate(104 2091.9 1570.9)"/><ellipse cx="2048.0" cy="1542.1" rx="4.4" ry="3.1" transform="rotate(143 2048.0 1542.1)"/><ellipse cx="2090.4" cy="2014.9" rx="3.8" ry="2.7" transform="rotate(100 2090.4 2014.9)"/><ellipse cx="2037.7" cy="1842.4" rx="4.3" ry="3.0" transform="rotate(83 2037.7 1842.4)"/><ellipse cx="2102.1" cy="1490.3" rx="4.5" ry="3.1" transform="rotate(99 2102.1 1490.3)"/><ellipse cx="2056.9" cy="1866.8" rx="4.2" ry="2.9" transform="rotate(52 2056.9 1866.8)"/><ellipse cx="2106.7" cy="1538.3" rx="4.5" ry="3.2" transform="rotate(35 2106.7 1538.3)"/><ellipse cx="2028.9" cy="1865.0" rx="4.6" ry="3.2" transform="rotate(138 2028.9 1865.0)"/><ellipse cx="2160.5" cy="1782.2" rx="4.0" ry="2.8" transform="rotate(62 2160.5 1782.2)"/><ellipse cx="2156.6" cy="1555.7" rx="4.6" ry="3.3" transform="rotate(59 2156.6 1555.7)"/><ellipse cx="2132.6" cy="1930.1" rx="4.2" ry="3.0" transform="rotate(102 2132.6 1930.1)"/><ellipse cx="2160.3" cy="1629.3" rx="4.3" ry="3.0" transform="rotate(13 2160.3 1629.3)"/><ellipse cx="2114.7" cy="1632.5" rx="3.8" ry="2.7" transform="rotate(12 2114.7 1632.5)"/><ellipse cx="2170.1" cy="1797.9" rx="4.7" ry="3.3" transform="rotate(12 2170.1 1797.9)"/><ellipse cx="2176.1" cy="1861.4" rx="3.8" ry="2.7" transform="rotate(139 2176.1 1861.4)"/><ellipse cx="2111.9" cy="1512.5" rx="4.3" ry="3.0" transform="rotate(60 2111.9 1512.5)"/><ellipse cx="2144.8" cy="1952.7" rx="4.5" ry="3.2" transform="rotate(68 2144.8 1952.7)"/><ellipse cx="2211.7" cy="1922.2" rx="3.8" ry="2.7" transform="rotate(62 2211.7 1922.2)"/><ellipse cx="2250.2" cy="1532.7" rx="4.6" ry="3.3" transform="rotate(145 2250.2 1532.7)"/><ellipse cx="2224.8" cy="1811.4" rx="4.5" ry="3.2" transform="rotate(31 2224.8 1811.4)"/><ellipse cx="2227.0" cy="1755.2" rx="4.7" ry="3.3" transform="rotate(77 2227.0 1755.2)"/><ellipse cx="2192.8" cy="1473.1" rx="4.0" ry="2.8" transform="rotate(108 2192.8 1473.1)"/><ellipse cx="2242.5" cy="1590.7" rx="4.5" ry="3.2" transform="rotate(177 2242.5 1590.7)"/><ellipse cx="2222.9" cy="1847.0" rx="4.0" ry="2.8" transform="rotate(43 2222.9 1847.0)"/><ellipse cx="2239.2" cy="1826.1" rx="3.7" ry="2.6" transform="rotate(19 2239.2 1826.1)"/><ellipse cx="2274.0" cy="1911.1" rx="4.1" ry="2.9" transform="rotate(80 2274.0 1911.1)"/><ellipse cx="2268.5" cy="1529.7" rx="3.7" ry="2.6" transform="rotate(90 2268.5 1529.7)"/><ellipse cx="2321.2" cy="1563.0" rx="4.7" ry="3.3" transform="rotate(57 2321.2 1563.0)"/><ellipse cx="2306.9" cy="1920.7" rx="4.2" ry="2.9" transform="rotate(62 2306.9 1920.7)"/><ellipse cx="2341.3" cy="1955.5" rx="4.2" ry="2.9" transform="rotate(87 2341.3 1955.5)"/><ellipse cx="2306.0" cy="1829.2" rx="4.1" ry="2.9" transform="rotate(53 2306.0 1829.2)"/><ellipse cx="2328.9" cy="1756.5" rx="4.7" ry="3.3" transform="rotate(146 2328.9 1756.5)"/><ellipse cx="2294.3" cy="1521.1" rx="4.6" ry="3.2" transform="rotate(53 2294.3 1521.1)"/><ellipse cx="2339.3" cy="1917.0" rx="4.6" ry="3.2" transform="rotate(81 2339.3 1917.0)"/><ellipse cx="2293.8" cy="1995.4" rx="3.9" ry="2.7" transform="rotate(68 2293.8 1995.4)"/><ellipse cx="2333.4" cy="1726.6" rx="4.6" ry="3.3" transform="rotate(94 2333.4 1726.6)"/><ellipse cx="2330.7" cy="1853.8" rx="4.0" ry="2.8" transform="rotate(1 2330.7 1853.8)"/><ellipse cx="2361.6" cy="1815.6" rx="3.7" ry="2.6" transform="rotate(44 2361.6 1815.6)"/><ellipse cx="2352.8" cy="1802.1" rx="4.1" ry="2.9" transform="rotate(67 2352.8 1802.1)"/><ellipse cx="2357.8" cy="2020.5" rx="4.7" ry="3.3" transform="rotate(36 2357.8 2020.5)"/><ellipse cx="2363.3" cy="1657.5" rx="4.5" ry="3.2" transform="rotate(106 2363.3 1657.5)"/><ellipse cx="2417.7" cy="1656.1" rx="3.9" ry="2.8" transform="rotate(155 2417.7 1656.1)"/><ellipse cx="2375.9" cy="2045.9" rx="4.0" ry="2.8" transform="rotate(41 2375.9 2045.9)"/><ellipse cx="2384.7" cy="1891.9" rx="3.8" ry="2.7" transform="rotate(174 2384.7 1891.9)"/><ellipse cx="2408.3" cy="1882.8" rx="4.6" ry="3.2" transform="rotate(156 2408.3 1882.8)"/><ellipse cx="2374.6" cy="1678.2" rx="4.2" ry="2.9" transform="rotate(99 2374.6 1678.2)"/><ellipse cx="2419.6" cy="1798.6" rx="4.2" ry="3.0" transform="rotate(87 2419.6 1798.6)"/><ellipse cx="2460.9" cy="1752.9" rx="4.4" ry="3.1" transform="rotate(132 2460.9 1752.9)"/><ellipse cx="2435.3" cy="1570.3" rx="3.8" ry="2.7" transform="rotate(113 2435.3 1570.3)"/><ellipse cx="2482.4" cy="1729.6" rx="3.9" ry="2.7" transform="rotate(17 2482.4 1729.6)"/><ellipse cx="2487.9" cy="1855.1" rx="4.3" ry="3.0" transform="rotate(48 2487.9 1855.1)"/><ellipse cx="2494.7" cy="2064.9" rx="4.3" ry="3.1" transform="rotate(150 2494.7 2064.9)"/><ellipse cx="2459.2" cy="1540.5" rx="4.3" ry="3.0" transform="rotate(21 2459.2 1540.5)"/><ellipse cx="2499.6" cy="1591.8" rx="3.9" ry="2.7" transform="rotate(95 2499.6 1591.8)"/><ellipse cx="2475.2" cy="1952.7" rx="4.4" ry="3.1" transform="rotate(119 2475.2 1952.7)"/><ellipse cx="2450.0" cy="2014.7" rx="4.1" ry="2.9" transform="rotate(18 2450.0 2014.7)"/><ellipse cx="2588.0" cy="1611.6" rx="4.1" ry="2.9" transform="rotate(79 2588.0 1611.6)"/><ellipse cx="2521.9" cy="1963.2" rx="4.1" ry="2.9" transform="rotate(25 2521.9 1963.2)"/><ellipse cx="2517.4" cy="2059.7" rx="3.9" ry="2.8" transform="rotate(48 2517.4 2059.7)"/><ellipse cx="2542.3" cy="1718.2" rx="4.7" ry="3.3" transform="rotate(30 2542.3 1718.2)"/><ellipse cx="2558.0" cy="1810.8" rx="3.7" ry="2.6" transform="rotate(81 2558.0 1810.8)"/><ellipse cx="2583.4" cy="1710.3" rx="4.1" ry="2.9" transform="rotate(36 2583.4 1710.3)"/><ellipse cx="2623.8" cy="1780.7" rx="4.2" ry="2.9" transform="rotate(50 2623.8 1780.7)"/><ellipse cx="2603.2" cy="2106.1" rx="4.3" ry="3.0" transform="rotate(89 2603.2 2106.1)"/><ellipse cx="2661.3" cy="1602.4" rx="4.5" ry="3.2" transform="rotate(120 2661.3 1602.4)"/><ellipse cx="2664.2" cy="1970.3" rx="4.5" ry="3.2" transform="rotate(53 2664.2 1970.3)"/><ellipse cx="2596.2" cy="1545.9" rx="4.0" ry="2.8" transform="rotate(83 2596.2 1545.9)"/><ellipse cx="2627.4" cy="2097.5" rx="3.7" ry="2.6" transform="rotate(158 2627.4 2097.5)"/><ellipse cx="2639.3" cy="1781.3" rx="3.9" ry="2.7" transform="rotate(75 2639.3 1781.3)"/><ellipse cx="2626.1" cy="1891.2" rx="4.3" ry="3.0" transform="rotate(118 2626.1 1891.2)"/><ellipse cx="2623.6" cy="1875.2" rx="4.3" ry="3.0" transform="rotate(49 2623.6 1875.2)"/><ellipse cx="2628.8" cy="1520.8" rx="4.0" ry="2.8" transform="rotate(95 2628.8 1520.8)"/><ellipse cx="2711.6" cy="2046.0" rx="3.8" ry="2.7" transform="rotate(101 2711.6 2046.0)"/><ellipse cx="2669.1" cy="1521.9" rx="4.0" ry="2.8" transform="rotate(151 2669.1 1521.9)"/><ellipse cx="2721.9" cy="1736.4" rx="4.0" ry="2.8" transform="rotate(45 2721.9 1736.4)"/><ellipse cx="2732.9" cy="1631.4" rx="4.2" ry="3.0" transform="rotate(57 2732.9 1631.4)"/><ellipse cx="2699.3" cy="1529.2" rx="4.6" ry="3.3" transform="rotate(55 2699.3 1529.2)"/><ellipse cx="2746.8" cy="2083.9" rx="3.9" ry="2.8" transform="rotate(4 2746.8 2083.9)"/><ellipse cx="2677.8" cy="2107.0" rx="4.0" ry="2.8" transform="rotate(80 2677.8 2107.0)"/><ellipse cx="2782.3" cy="1682.7" rx="4.2" ry="2.9" transform="rotate(1 2782.3 1682.7)"/><ellipse cx="2784.8" cy="2004.8" rx="4.3" ry="3.0" transform="rotate(45 2784.8 2004.8)"/><ellipse cx="2771.2" cy="1803.0" rx="4.6" ry="3.3" transform="rotate(160 2771.2 1803.0)"/><ellipse cx="2801.7" cy="1620.8" rx="4.4" ry="3.1" transform="rotate(37 2801.7 1620.8)"/><ellipse cx="2757.0" cy="1807.2" rx="4.4" ry="3.1" transform="rotate(27 2757.0 1807.2)"/><ellipse cx="2803.1" cy="1855.7" rx="4.6" ry="3.3" transform="rotate(29 2803.1 1855.7)"/><ellipse cx="2808.9" cy="1927.1" rx="4.6" ry="3.2" transform="rotate(162 2808.9 1927.1)"/><ellipse cx="2791.8" cy="1936.1" rx="4.0" ry="2.8" transform="rotate(61 2791.8 1936.1)"/><ellipse cx="2793.0" cy="1916.0" rx="3.7" ry="2.6" transform="rotate(69 2793.0 1916.0)"/><ellipse cx="2866.3" cy="1540.6" rx="4.6" ry="3.2" transform="rotate(71 2866.3 1540.6)"/><ellipse cx="2849.1" cy="1785.5" rx="4.3" ry="3.0" transform="rotate(2 2849.1 1785.5)"/><ellipse cx="2834.6" cy="2129.2" rx="4.5" ry="3.2" transform="rotate(128 2834.6 2129.2)"/><ellipse cx="2903.5" cy="1554.3" rx="4.5" ry="3.2" transform="rotate(3 2903.5 1554.3)"/><ellipse cx="2874.6" cy="1782.0" rx="4.4" ry="3.1" transform="rotate(154 2874.6 1782.0)"/><ellipse cx="2837.2" cy="1916.3" rx="4.4" ry="3.1" transform="rotate(55 2837.2 1916.3)"/><ellipse cx="2844.9" cy="1986.9" rx="3.7" ry="2.6" transform="rotate(47 2844.9 1986.9)"/><ellipse cx="2952.2" cy="1719.9" rx="4.4" ry="3.1" transform="rotate(2 2952.2 1719.9)"/><ellipse cx="2923.0" cy="1885.6" rx="4.3" ry="3.0" transform="rotate(150 2923.0 1885.6)"/><ellipse cx="2991.3" cy="1698.7" rx="3.8" ry="2.7" transform="rotate(95 2991.3 1698.7)"/><ellipse cx="2995.2" cy="1901.2" rx="4.6" ry="3.3" transform="rotate(6 2995.2 1901.2)"/><ellipse cx="2999.5" cy="1829.6" rx="4.7" ry="3.3" transform="rotate(168 2999.5 1829.6)"/><ellipse cx="3005.1" cy="1593.0" rx="3.8" ry="2.7" transform="rotate(150 3005.1 1593.0)"/><ellipse cx="3063.2" cy="1876.4" rx="4.4" ry="3.1" transform="rotate(102 3063.2 1876.4)"/><ellipse cx="2998.5" cy="1682.4" rx="4.1" ry="2.9" transform="rotate(83 2998.5 1682.4)"/><ellipse cx="3134.3" cy="1718.8" rx="4.2" ry="2.9" transform="rotate(36 3134.3 1718.8)"/><ellipse cx="3097.5" cy="1721.2" rx="4.0" ry="2.8" transform="rotate(56 3097.5 1721.2)"/><ellipse cx="3144.8" cy="1700.5" rx="4.4" ry="3.1" transform="rotate(70 3144.8 1700.5)"/></g>
<path d="M1468 1903.7 L1573.5 1923" fill="none" stroke="#000" stroke-width="11" stroke-linecap="butt" stroke-linejoin="round"/>
<path d="M1573.5 1923 L1603.6 1928.6" fill="none" stroke="#000" stroke-width="5" stroke-linecap="butt" stroke-linejoin="round"/>
<path d="M1603.6 1927.8 L1702.7 1944.6" fill="none" stroke="#000" stroke-width="13" stroke-linecap="butt" stroke-linejoin="round"/>
<path d="M1702.7 1943.7 C1718.4 1946.8 1768.8 1956.0 1797 1962 C1825.2 1968.0 1845.1 1974.8 1872 1980 C1898.9 1985.2 1944.0 1991.2 1958.4 1993.4" fill="none" stroke="#000" stroke-width="8.5" stroke-linecap="round" stroke-linejoin="round"/>
<path d="M1573.5 1919.8 L1726.4 1813.2" fill="none" stroke="#000" stroke-width="7.9" stroke-linecap="round" stroke-linejoin="round"/>
<path d="M1605.8 1926.3 L1756.5 1817.5" fill="none" stroke="#000" stroke-width="7.9" stroke-linecap="round" stroke-linejoin="round"/>
<path d="M1958.4 1993.4 L2094.1 1877.2" fill="none" stroke="#000" stroke-width="7.9" stroke-linecap="round" stroke-linejoin="round"/>
<path d="M1990.7 2002 L2126.4 1881.5" fill="none" stroke="#000" stroke-width="7.9" stroke-linecap="round" stroke-linejoin="round"/>
<path d="M1990.7 2002 C2010.8 2005.6 2068.1 2015.0 2111.3 2023.6 C2154.5 2032.2 2212.5 2045.8 2250 2053.7 C2287.5 2061.6 2305.9 2065.2 2336.1 2071 C2366.2 2076.8 2415.1 2085.3 2430.9 2088.2" fill="none" stroke="#000" stroke-width="8.5" stroke-linecap="round" stroke-linejoin="round"/>
<path d="M2430.9 2088.2 L2557.9 1958.1" fill="none" stroke="#000" stroke-width="7.9" stroke-linecap="round" stroke-linejoin="round"/>
<path d="M2458 2096.8 L2585.9 1962.4" fill="none" stroke="#000" stroke-width="7.9" stroke-linecap="round" stroke-linejoin="round"/>
<path d="M2458 2096.8 C2473.6 2100.0 2514.4 2109.0 2551.5 2116.2 C2588.6 2123.4 2648.4 2134.2 2680.7 2139.9 C2713.0 2145.6 2725.2 2146.7 2745.3 2150.6 C2765.4 2154.5 2784.0 2160.3 2801.2 2163.5 C2818.4 2166.7 2840.7 2168.9 2848.6 2170" fill="none" stroke="#000" stroke-width="8.5" stroke-linecap="round" stroke-linejoin="round"/>
<path d="M1625.2 1791.7 C1635.6 1792.8 1670.0 1795.8 1687.6 1798.1 C1705.2 1800.4 1712.0 1801.9 1730.7 1805.7 C1749.4 1809.5 1779.5 1816.4 1800 1820.7 C1820.5 1825.0 1839.5 1828.8 1853.8 1831.7 C1868.1 1834.6 1877.7 1836.9 1886.1 1838.2 C1894.5 1839.5 1901.4 1839.3 1904.4 1839.5" fill="none" stroke="#000" stroke-width="8.5" stroke-linecap="round" stroke-linejoin="round"/>
<path d="M1904.6 1838.4 L2059.6 1717.8" fill="none" stroke="#000" stroke-width="7.9" stroke-linecap="round" stroke-linejoin="round"/>
<path d="M1936.9 1842.7 L2089.8 1722.1" fill="none" stroke="#000" stroke-width="7.9" stroke-linecap="round" stroke-linejoin="round"/>
<path d="M1936.9 1842.7 C1951.6 1844.8 1996.1 1850.6 2025.2 1855.6 C2054.3 1860.6 2073.8 1865.7 2111.3 1872.9 C2148.8 1880.1 2215.8 1892.4 2250 1898.7 C2284.2 1905.0 2305.7 1908.7 2316.8 1910.7" fill="none" stroke="#000" stroke-width="8.5" stroke-linecap="round" stroke-linejoin="round"/>
<path d="M2316.8 1910.7 L2469.6 1771.6" fill="none" stroke="#000" stroke-width="7.9" stroke-linecap="round" stroke-linejoin="round"/>
<path d="M2348.2 1918.1 L2497.6 1776" fill="none" stroke="#000" stroke-width="7.9" stroke-linecap="round" stroke-linejoin="round"/>
<path d="M2348.2 1918.1 C2360.5 1919.9 2388.4 1923.4 2422.3 1928.8 C2456.2 1934.2 2508.4 1943.6 2551.5 1950.4 C2594.6 1957.2 2644.8 1964.1 2680.7 1969.8 C2716.6 1975.5 2748.2 1981.6 2766.8 1984.8 C2785.5 1988.0 2788.3 1988.4 2792.6 1989.1" fill="none" stroke="#000" stroke-width="8.5" stroke-linecap="round" stroke-linejoin="round"/>
<path d="M2792.6 1989.1 L2934.8 1834.1" fill="none" stroke="#000" stroke-width="7.9" stroke-linecap="round" stroke-linejoin="round"/>
<path d="M2822.8 1996.9 L2956.3 1838.4" fill="none" stroke="#000" stroke-width="7.9" stroke-linecap="round" stroke-linejoin="round"/>
<path d="M2822.8 1996.9 C2835.0 1998.8 2871.6 2005.1 2896 2008.5 C2920.4 2011.9 2957.0 2015.7 2969.2 2017.1" fill="none" stroke="#000" stroke-width="8.5" stroke-linecap="round" stroke-linejoin="round"/>
<path d="M1804.3 1670.9 C1812.5 1672.2 1836.9 1676.0 1853.8 1678.4 C1870.7 1680.8 1896.9 1684.3 1905.5 1685.5" fill="none" stroke="#000" stroke-width="8.5" stroke-linecap="round" stroke-linejoin="round"/>
<path d="M1905.5 1685.5 L2064.9 1571.8" fill="none" stroke="#000" stroke-width="7.9" stroke-linecap="round" stroke-linejoin="round"/>
<path d="M1935.7 1691.4 L2090.7 1576.1" fill="none" stroke="#000" stroke-width="7.9" stroke-linecap="round" stroke-linejoin="round"/>
<path d="M1935.7 1691.4 C1949.0 1693.6 1990.2 1700.4 2015.3 1704.3 C2040.4 1708.2 2061.3 1711.4 2086.4 1715 C2111.5 1718.6 2142.1 1722.2 2166.1 1725.8 C2190.1 1729.4 2214.5 1734.1 2230.7 1736.6 C2246.8 1739.1 2257.6 1740.2 2263 1740.9" fill="none" stroke="#000" stroke-width="8.5" stroke-linecap="round" stroke-linejoin="round"/>
<path d="M2267.2 1739.3 L2411.5 1616.6" fill="none" stroke="#000" stroke-width="7.9" stroke-linecap="round" stroke-linejoin="round"/>
<path d="M2295.2 1743.7 L2439.5 1620.9" fill="none" stroke="#000" stroke-width="7.9" stroke-linecap="round" stroke-linejoin="round"/>
<path d="M2295.2 1743.7 C2309.2 1745.5 2350.8 1750.3 2379.2 1754.4 C2407.5 1758.5 2429.4 1762.8 2465.3 1768.2 C2501.2 1773.6 2558.6 1781.8 2594.5 1786.7 C2630.4 1791.6 2660.6 1795.2 2680.7 1797.5 C2700.8 1799.8 2709.4 1800.0 2715.1 1800.5" fill="none" stroke="#000" stroke-width="8.5" stroke-linecap="round" stroke-linejoin="round"/>
<path d="M2715.1 1800.5 L2844.3 1664" fill="none" stroke="#000" stroke-width="7.9" stroke-linecap="round" stroke-linejoin="round"/>
<path d="M2745.3 1806.1 L2874.5 1668.3" fill="none" stroke="#000" stroke-width="7.9" stroke-linecap="round" stroke-linejoin="round"/>
<path d="M2745.3 1806.1 C2763.2 1807.9 2820.6 1813.3 2852.9 1816.9 C2885.2 1820.5 2910.4 1823.6 2939.1 1827.6 C2967.8 1831.5 3000.8 1837.0 3025.2 1840.6 C3049.6 1844.2 3075.4 1847.8 3085.5 1849.2" fill="none" stroke="#000" stroke-width="8.5" stroke-linecap="round" stroke-linejoin="round"/>
<path d="M1975.4 1555.5 C1988.0 1556.8 2027.4 1560.3 2050.7 1563 C2074.0 1565.7 2095.6 1568.7 2115.3 1571.6 C2135.1 1574.5 2149.6 1577.4 2169.2 1580.3 C2188.8 1583.2 2222.1 1587.5 2232.7 1588.9" fill="none" stroke="#000" stroke-width="8.5" stroke-linecap="round" stroke-linejoin="round"/>
<path d="M2232.7 1588.9 L2371.5 1481.2 A11.4 11.4 0 0 1 2390.5 1493 L2263.9 1589.9" fill="none" stroke="#000" stroke-width="7.9" stroke-linecap="round" stroke-linejoin="round"/>
<path d="M2263.9 1589.9 C2278.2 1591.5 2324.9 1596.2 2350 1599.6 C2375.1 1603.0 2389.5 1607.5 2414.6 1610.4 C2439.7 1613.3 2475.6 1613.7 2500.7 1616.9 C2525.8 1620.1 2548.1 1626.8 2565.3 1629.8 C2582.5 1632.8 2592.2 1634.0 2604.1 1635.2 C2615.9 1636.5 2631.0 1637.0 2636.4 1637.3" fill="none" stroke="#000" stroke-width="8.5" stroke-linecap="round" stroke-linejoin="round"/>
<path d="M2636.4 1637.3 L2755.9 1526.4 A12.9 12.9 0 0 1 2779.6 1535.5 L2666.5 1639.5" fill="none" stroke="#000" stroke-width="7.9" stroke-linecap="round" stroke-linejoin="round"/>
<path d="M2666.5 1639.5 C2681.9 1640.6 2740.1 1644.1 2759.1 1645.9 C2778.1 1647.7 2765.5 1648.2 2780.7 1650.2 C2795.8 1652.2 2847.9 1657.2 2850 1657.8 C2852.1 1658.3 2793.6 1653.5 2793.1 1653.5 C2792.6 1653.5 2829.0 1656.0 2846.9 1657.8 C2864.8 1659.6 2881.0 1661.9 2900.7 1664.2 C2920.4 1666.5 2943.8 1669.5 2965.3 1671.8 C2986.8 1674.1 3012.3 1675.9 3029.9 1678.2 C3047.5 1680.5 3064.0 1684.5 3070.8 1685.8" fill="none" stroke="#000" stroke-width="8.5" stroke-linecap="round" stroke-linejoin="round"/>
<path d="M3070.8 1685.8 L3146.6 1601.8" fill="none" stroke="#000" stroke-width="7.9" stroke-linecap="round" stroke-linejoin="round"/>
<path d="M3105.3 1690.1 L3146.6 1641.6" fill="none" stroke="#000" stroke-width="7.9" stroke-linecap="round" stroke-linejoin="round"/>
<path d="M3105.3 1690.1 L3146.6 1695.5" fill="none" stroke="#000" stroke-width="7.9" stroke-linecap="round" stroke-linejoin="round"/>
<polygon points="2398.4,1444 2414.6,1428.4 2500.7,1441.4 2504,1444.6 2494.3,1452.1 2495.3,1459.7 2403.8,1448.9" fill="#000" stroke="#000" stroke-width="1.5" stroke-linejoin="round"/>
<polygon points="2520.1,1458.6 2535.2,1444.2 2621.3,1453.2 2625.6,1458.6 2615.9,1465.1 2614.9,1471.5 2526.6,1461.4" fill="#000" stroke="#000" stroke-width="1.5" stroke-linejoin="round"/>
<polygon points="2649.3,1471.5 2664.4,1458 2752.7,1467.2 2754.8,1472.6 2744.1,1485.5 2653.6,1474.7" fill="#000" stroke="#000" stroke-width="1.5" stroke-linejoin="round"/>
<polygon points="2762.9,1483.4 2779.1,1470.4 2862,1479.5 2863,1482.3 2852.3,1489.8 2851.2,1498 2767.2,1488.1" fill="#000" stroke="#000" stroke-width="1.5" stroke-linejoin="round"/>
<polygon points="2878.8,1497.4 2895.3,1482.9 2987.9,1493 2989,1497.4 2976.1,1511.4 2883.5,1500.6" fill="#000" stroke="#000" stroke-width="1.5" stroke-linejoin="round"/>
<polygon points="3011.6,1510.3 3024.5,1497.4 3113.9,1508.1 3113.9,1511.4 3098.8,1526.4 3014.9,1514.6" fill="#000" stroke="#000" stroke-width="1.5" stroke-linejoin="round"/>
<polygon points="3125.8,1524.3 3141.9,1509.2 3146.6,1509.2 3146.6,1530.7" fill="#000" stroke="#000" stroke-width="1.5" stroke-linejoin="round"/>
<ellipse cx="2400.6" cy="1466.1" rx="11" ry="7.8"/>
<ellipse cx="2793.5" cy="1509.2" rx="11" ry="7.8"/>
<path d="M1467.5 1901 L1625 1794 L1806 1671 L1883 1618 L1977 1555 L2053 1502.7 L2137 1444.6 L2217 1390.5 L2380 1290" fill="none" stroke="#000" stroke-width="8" stroke-linecap="round" stroke-linejoin="round"/>
<circle cx="1625" cy="1794" r="6.5"/>
<circle cx="1806" cy="1671" r="6.5"/>
<circle cx="1977" cy="1555" r="6.5"/>
<circle cx="2138" cy="1443.5" r="6.5"/>
<circle cx="1468.5" cy="1900" r="6.5"/>
<path d="M1467.5 1901 L1467.5 1687 L1714.5 1511.8" fill="none" stroke="#000" stroke-width="7" stroke-linecap="round" stroke-linejoin="miter"/>
<path d="M1639 1782 L1639 1581.5 L1881.3 1410.1" fill="none" stroke="#000" stroke-width="7" stroke-linecap="round" stroke-linejoin="miter"/>
<path d="M1809 1665 L1809 1478 L2052 1304.4" fill="none" stroke="#000" stroke-width="7" stroke-linecap="round" stroke-linejoin="miter"/>
<path d="M1981.3 1551 L1981.3 1370 L2216.3 1204.2" fill="none" stroke="#000" stroke-width="7" stroke-linecap="round" stroke-linejoin="miter"/>
<path d="M2138.4 1443 L2138.4 1279.5 L2379 1113" fill="none" stroke="#000" stroke-width="7" stroke-linecap="round" stroke-linejoin="miter"/>
<path d="M2379 1113 L2380 1290" fill="none" stroke="#000" stroke-width="7" stroke-linecap="round" stroke-linejoin="round"/>
<path d="M1715.5 1511.8 L1716.1 1569.7" fill="none" stroke="#000" stroke-width="7.5" stroke-linecap="butt" stroke-linejoin="round"/>
<path d="M1715.5 1583.7 L1716.1 1643" fill="none" stroke="#000" stroke-width="7.5" stroke-linecap="butt" stroke-linejoin="round"/>
<path d="M1715.5 1658 L1716.1 1724" fill="none" stroke="#000" stroke-width="7.5" stroke-linecap="butt" stroke-linejoin="round"/>
<path d="M1881.8 1410 L1882.4 1466" fill="none" stroke="#000" stroke-width="7.5" stroke-linecap="butt" stroke-linejoin="round"/>
<path d="M1881.8 1482 L1882.4 1546" fill="none" stroke="#000" stroke-width="7.5" stroke-linecap="butt" stroke-linejoin="round"/>
<path d="M1881.8 1556.5 L1882.4 1617" fill="none" stroke="#000" stroke-width="7.5" stroke-linecap="butt" stroke-linejoin="round"/>
<path d="M2052.6 1305 L2053.2 1352.3" fill="none" stroke="#000" stroke-width="7.5" stroke-linecap="butt" stroke-linejoin="round"/>
<path d="M2052.6 1366 L2053.2 1426" fill="none" stroke="#000" stroke-width="7.5" stroke-linecap="butt" stroke-linejoin="round"/>
<path d="M2052.6 1440 L2053.2 1501" fill="none" stroke="#000" stroke-width="7.5" stroke-linecap="butt" stroke-linejoin="round"/>
<path d="M2216.6 1204.5 L2217.2 1258.5" fill="none" stroke="#000" stroke-width="7.5" stroke-linecap="butt" stroke-linejoin="round"/>
<path d="M2216.6 1272.5 L2217.2 1320.5" fill="none" stroke="#000" stroke-width="7.5" stroke-linecap="butt" stroke-linejoin="round"/>
<path d="M2216.6 1332 L2217.2 1388" fill="none" stroke="#000" stroke-width="7.5" stroke-linecap="butt" stroke-linejoin="round"/>
<path d="M2395.9 1287.2 L2654.5 1119.6" fill="none" stroke="#000" stroke-width="7" stroke-linecap="round" stroke-linejoin="round"/>
<path d="M2380.4 1290 L2495.3 1300.2" fill="none" stroke="#000" stroke-width="7" stroke-linecap="round" stroke-linejoin="round"/>
<path d="M2512.1 1327.3 L2327.4 1468.1" fill="none" stroke="#000" stroke-width="8" stroke-linecap="round" stroke-linejoin="round"/>
<path d="M2138.6 1445 L2327.4 1468.1" fill="none" stroke="#000" stroke-width="8" stroke-linecap="round" stroke-linejoin="round"/>
<ellipse cx="2384.2" cy="1309.2" rx="10.5" ry="5.5"/>
<ellipse cx="2485.0" cy="1314.9" rx="10.5" ry="5.5"/>
<path d="M2573 1312.6 C2580.2 1313.2 2598.2 1315.3 2616.1 1316 C2634.0 1316.7 2666.7 1316.1 2680.7 1316.9 C2694.7 1317.8 2688.2 1319.8 2700 1321.1 C2711.8 1322.4 2733.6 1322.8 2751.7 1325 C2769.8 1327.2 2787.0 1332.4 2808.5 1334.1 C2830.0 1335.8 2860.2 1334.4 2880.9 1335.3 C2901.6 1336.2 2911.1 1337.7 2932.6 1339.2 C2954.1 1340.7 2986.4 1342.9 3010.1 1344.4 C3033.8 1345.9 3052.0 1346.7 3074.7 1348.3 C3097.4 1349.9 3134.5 1353.0 3146.5 1354" fill="none" stroke="#000" stroke-width="8.5" stroke-linecap="butt" stroke-linejoin="round"/>
<path d="M2319.9 1475.8 L2290.8 1494.1" fill="none" stroke="#000" stroke-width="5.2" stroke-linecap="round" stroke-linejoin="round"/>
<path d="M2283.3 1501.7 L2253.1 1523.2" fill="none" stroke="#000" stroke-width="5.2" stroke-linecap="round" stroke-linejoin="round"/>
<path d="M2246.7 1528.6 L2210.1 1555.5" fill="none" stroke="#000" stroke-width="5.2" stroke-linecap="round" stroke-linejoin="round"/>
<path d="M2202.5 1563 L2177.8 1579.2" fill="none" stroke="#000" stroke-width="5.2" stroke-linecap="round" stroke-linejoin="round"/>
<path d="M2153 1599.6 L2121.8 1622.2" fill="none" stroke="#000" stroke-width="5.2" stroke-linecap="round" stroke-linejoin="round"/>
<path d="M2108.9 1634.1 L2072.3 1659.9" fill="none" stroke="#000" stroke-width="5.2" stroke-linecap="round" stroke-linejoin="round"/>
<path d="M2065.8 1667.5 L2031.4 1692.2" fill="none" stroke="#000" stroke-width="5.2" stroke-linecap="round" stroke-linejoin="round"/>
<path d="M2009.9 1706.4 L1991.6 1723.7" fill="none" stroke="#000" stroke-width="5.2" stroke-linecap="round" stroke-linejoin="round"/>
<path d="M1985.2 1730.1 L1948.6 1756" fill="none" stroke="#000" stroke-width="5.2" stroke-linecap="round" stroke-linejoin="round"/>
<path d="M1940 1766.7 L1899.1 1792.6" fill="none" stroke="#000" stroke-width="5.2" stroke-linecap="round" stroke-linejoin="round"/>
<path d="M1888.3 1803.3 L1854.9 1828.1" fill="none" stroke="#000" stroke-width="5.2" stroke-linecap="round" stroke-linejoin="round"/>
<path d="M1838.8 1839.9 L1804.3 1863.6" fill="none" stroke="#000" stroke-width="5.2" stroke-linecap="round" stroke-linejoin="round"/>
<path d="M1793.1 1876.7 L1754.3 1902.6" fill="none" stroke="#000" stroke-width="5.2" stroke-linecap="round" stroke-linejoin="round"/>
<path d="M1745.7 1912.3 L1707 1938.1" fill="none" stroke="#000" stroke-width="5.2" stroke-linecap="round" stroke-linejoin="round"/>
<path d="M1717.7 1734.4 L1761.9 1742" fill="none" stroke="#000" stroke-width="5.2" stroke-linecap="round" stroke-linejoin="round"/>
<path d="M1773.7 1742 L1819.4 1749.5" fill="none" stroke="#000" stroke-width="5.2" stroke-linecap="round" stroke-linejoin="round"/>
<path d="M1833.4 1750.6 L1877.5 1758.1" fill="none" stroke="#000" stroke-width="5.2" stroke-linecap="round" stroke-linejoin="round"/>
<path d="M1891.5 1759.2 L1940 1766.7" fill="none" stroke="#000" stroke-width="5.2" stroke-linecap="round" stroke-linejoin="round"/>
<path d="M1884 1620.3 L1912 1625.7" fill="none" stroke="#000" stroke-width="5.2" stroke-linecap="round" stroke-linejoin="round"/>
<path d="M1935.7 1628.9 L1970.1 1634.3" fill="none" stroke="#000" stroke-width="5.2" stroke-linecap="round" stroke-linejoin="round"/>
<path d="M2013.2 1639.7 L2043.3 1644" fill="none" stroke="#000" stroke-width="5.2" stroke-linecap="round" stroke-linejoin="round"/>
<path d="M2054.1 1645.1 L2077.8 1649.4" fill="none" stroke="#000" stroke-width="5.2" stroke-linecap="round" stroke-linejoin="round"/>
<path d="M2052.9 1502.7 L2077.6 1507" fill="none" stroke="#000" stroke-width="5.2" stroke-linecap="round" stroke-linejoin="round"/>
<path d="M2088.4 1508.1 L2134.7 1514.6" fill="none" stroke="#000" stroke-width="5.2" stroke-linecap="round" stroke-linejoin="round"/>
<path d="M2149.8 1515.2 L2195 1522.1" fill="none" stroke="#000" stroke-width="5.2" stroke-linecap="round" stroke-linejoin="round"/>
<path d="M2207.9 1522.1 L2246.7 1528.6" fill="none" stroke="#000" stroke-width="5.2" stroke-linecap="round" stroke-linejoin="round"/>
<path d="M2217.6 1393.2 L2242.1 1398.3" fill="none" stroke="#000" stroke-width="5" stroke-linecap="round" stroke-linejoin="round"/>
<path d="M2255 1399.6 L2289.9 1403.5" fill="none" stroke="#000" stroke-width="5" stroke-linecap="round" stroke-linejoin="round"/>
<path d="M2304.1 1404.8 L2340.3 1408.7" fill="none" stroke="#000" stroke-width="5" stroke-linecap="round" stroke-linejoin="round"/>
<path d="M2354.5 1408.7 L2382.9 1411.3" fill="none" stroke="#000" stroke-width="5" stroke-linecap="round" stroke-linejoin="round"/>
<path d="M2392 1411.3 L2399.7 1411.8" fill="none" stroke="#000" stroke-width="5" stroke-linecap="round" stroke-linejoin="round"/>
<path d="M1443.2 1577.2 L1485.2 1612.8" fill="none" stroke="#000" stroke-width="8.6" stroke-linecap="round" stroke-linejoin="round"/>
<path d="M1694.9 1418.7 L1732.6 1453.2" fill="none" stroke="#000" stroke-width="8.6" stroke-linecap="round" stroke-linejoin="round"/>
<path d="M1787.5 1364.9 L1820.8 1394" fill="none" stroke="#000" stroke-width="8.6" stroke-linecap="round" stroke-linejoin="round"/>
<path d="M1858.5 1318.6 L1897.3 1353" fill="none" stroke="#000" stroke-width="8.6" stroke-linecap="round" stroke-linejoin="round"/>
<path d="M1326.9 1755.1 L1367.8 1789.5" fill="none" stroke="#000" stroke-width="8.6" stroke-linecap="round" stroke-linejoin="round"/>
<path d="M1323.7 1959.6 L1373.2 2001.6" fill="none" stroke="#000" stroke-width="8.6" stroke-linecap="round" stroke-linejoin="round"/>
<path d="M1567 2012.4 L1609 2047.9" fill="none" stroke="#000" stroke-width="8.6" stroke-linecap="round" stroke-linejoin="round"/>
<path d="M1466.9 1590.1 L1713.6 1436" fill="none" stroke="#000" stroke-width="3" stroke-linecap="round" stroke-linejoin="round"/>
<path d="M1804.7 1378.9 L1876.8 1336.9" fill="none" stroke="#000" stroke-width="3" stroke-linecap="round" stroke-linejoin="round"/>
<path d="M1463.7 1566.5 L1463.7 1677.4" fill="none" stroke="#000" stroke-width="4.3" stroke-linecap="round" stroke-linejoin="round"/>
<path d="M1714.7 1416.6 L1715.3 1496.2" fill="none" stroke="#000" stroke-width="4.3" stroke-linecap="round" stroke-linejoin="round"/>
<path d="M1805.8 1356.3 L1806.4 1448.9" fill="none" stroke="#000" stroke-width="4.3" stroke-linecap="round" stroke-linejoin="round"/>
<path d="M1880.1 1318.6 L1880.5 1398.3" fill="none" stroke="#000" stroke-width="4.3" stroke-linecap="round" stroke-linejoin="round"/>
<path d="M1310.8 1790.6 L1428.1 1715" fill="none" stroke="#000" stroke-width="3.8" stroke-linecap="round" stroke-linejoin="round"/>
<path d="M1345.2 1772.3 L1345.7 1976.9" fill="none" stroke="#000" stroke-width="4.3" stroke-linecap="round" stroke-linejoin="round"/>
<path d="M1323.7 1994.1 L1451.8 1906.9" fill="none" stroke="#000" stroke-width="3.8" stroke-linecap="round" stroke-linejoin="round"/>
<path d="M1348.4 1977.9 L1586.4 2030.7" fill="none" stroke="#000" stroke-width="3" stroke-linecap="round" stroke-linejoin="round"/>
<path d="M1559.5 2055.5 L1690.8 1958.6" fill="none" stroke="#000" stroke-width="3.8" stroke-linecap="round" stroke-linejoin="round"/>
<path d="M1601.2 1246.5 C1691.0 1237.8 1783.1 1278.7 1835.9 1352.0" fill="none" stroke="#000" stroke-width="6" stroke-linecap="round"/>
<circle cx="1839.1" cy="1355.2" r="14"/>
</g>
<text y="685.1"><tspan x="927.85" textLength="161.2" lengthAdjust="spacing">Lap</tspan> <tspan x="1115.95" textLength="145.2" lengthAdjust="spacing">the</tspan> <tspan x="1288.35" textLength="318.4" lengthAdjust="spacing">roofing</tspan> <tspan x="1631.35" textLength="479.4" lengthAdjust="spacing">membrane</tspan></text>
<text y="792.6"><tspan x="929.6" textLength="113.2" lengthAdjust="spacing">up</tspan> <tspan x="1068.8" textLength="147.4" lengthAdjust="spacing">the</tspan> <tspan x="1240.15" textLength="198.4" lengthAdjust="spacing">wall</tspan> <tspan x="1456.55" textLength="91.8" lengthAdjust="spacing">to</tspan> <tspan x="1575.2" textLength="320.8" lengthAdjust="spacing">protect</tspan> <tspan x="1923.6" textLength="147.6" lengthAdjust="spacing">the</tspan></text>
<text y="901"><tspan x="929" textLength="411" lengthAdjust="spacing">roof/wall</tspan> <tspan x="1359.45" textLength="561.4" lengthAdjust="spacing">intersection.</tspan></text>
<text y="440.8"><tspan x="2592.9" textLength="186.8" lengthAdjust="spacing">Nail</tspan> <tspan x="2797.75" textLength="358.4" lengthAdjust="spacing">flashing</tspan> <tspan x="3178.45" textLength="180.8" lengthAdjust="spacing">into</tspan></text>
<text y="548"><tspan x="2593.8" textLength="181.6" lengthAdjust="spacing">roof</tspan> <tspan x="2799.75" textLength="333.4" lengthAdjust="spacing">instead</tspan> <tspan x="3156" textLength="90.8" lengthAdjust="spacing">of</tspan> <tspan x="3271.5" textLength="147.6" lengthAdjust="spacing">the</tspan></text>
<text y="655.8"><tspan x="2591.65" textLength="198.2" lengthAdjust="spacing">wall</tspan> <tspan x="2808.65" textLength="92" lengthAdjust="spacing">to</tspan> <tspan x="2925.3" textLength="243.4" lengthAdjust="spacing">make</tspan></text>
<text y="763.1"><tspan x="2593.15" textLength="560.8" lengthAdjust="spacing">replacement</tspan> <tspan x="3180.15" textLength="295.8" lengthAdjust="spacing">easier.</tspan></text>
<text y="1220.5"><tspan x="260.9" textLength="342.2" lengthAdjust="spacing">Overlap</tspan> <tspan x="629.55" textLength="190.2" lengthAdjust="spacing">step</tspan> <tspan x="847.1" textLength="358.6" lengthAdjust="spacing">flashing</tspan> <tspan x="1231.9" textLength="68.2" lengthAdjust="spacing">--</tspan> <tspan x="1326.2" textLength="259" lengthAdjust="spacing">upper</tspan></text>
<text y="1327.2"><tspan x="261.4" textLength="240.2" lengthAdjust="spacing">piece</tspan> <tspan x="527.55" textLength="191.4" lengthAdjust="spacing">over</tspan> <tspan x="746.6" textLength="249" lengthAdjust="spacing">lower</tspan> <tspan x="1023.8" textLength="68" lengthAdjust="spacing">--</tspan> <tspan x="1118.05" textLength="261.2" lengthAdjust="spacing">about</tspan> <tspan x="1404.65">2</tspan> <tspan x="1486" textLength="112" lengthAdjust="spacing">in.</tspan></text>
</svg>
</body></html>
